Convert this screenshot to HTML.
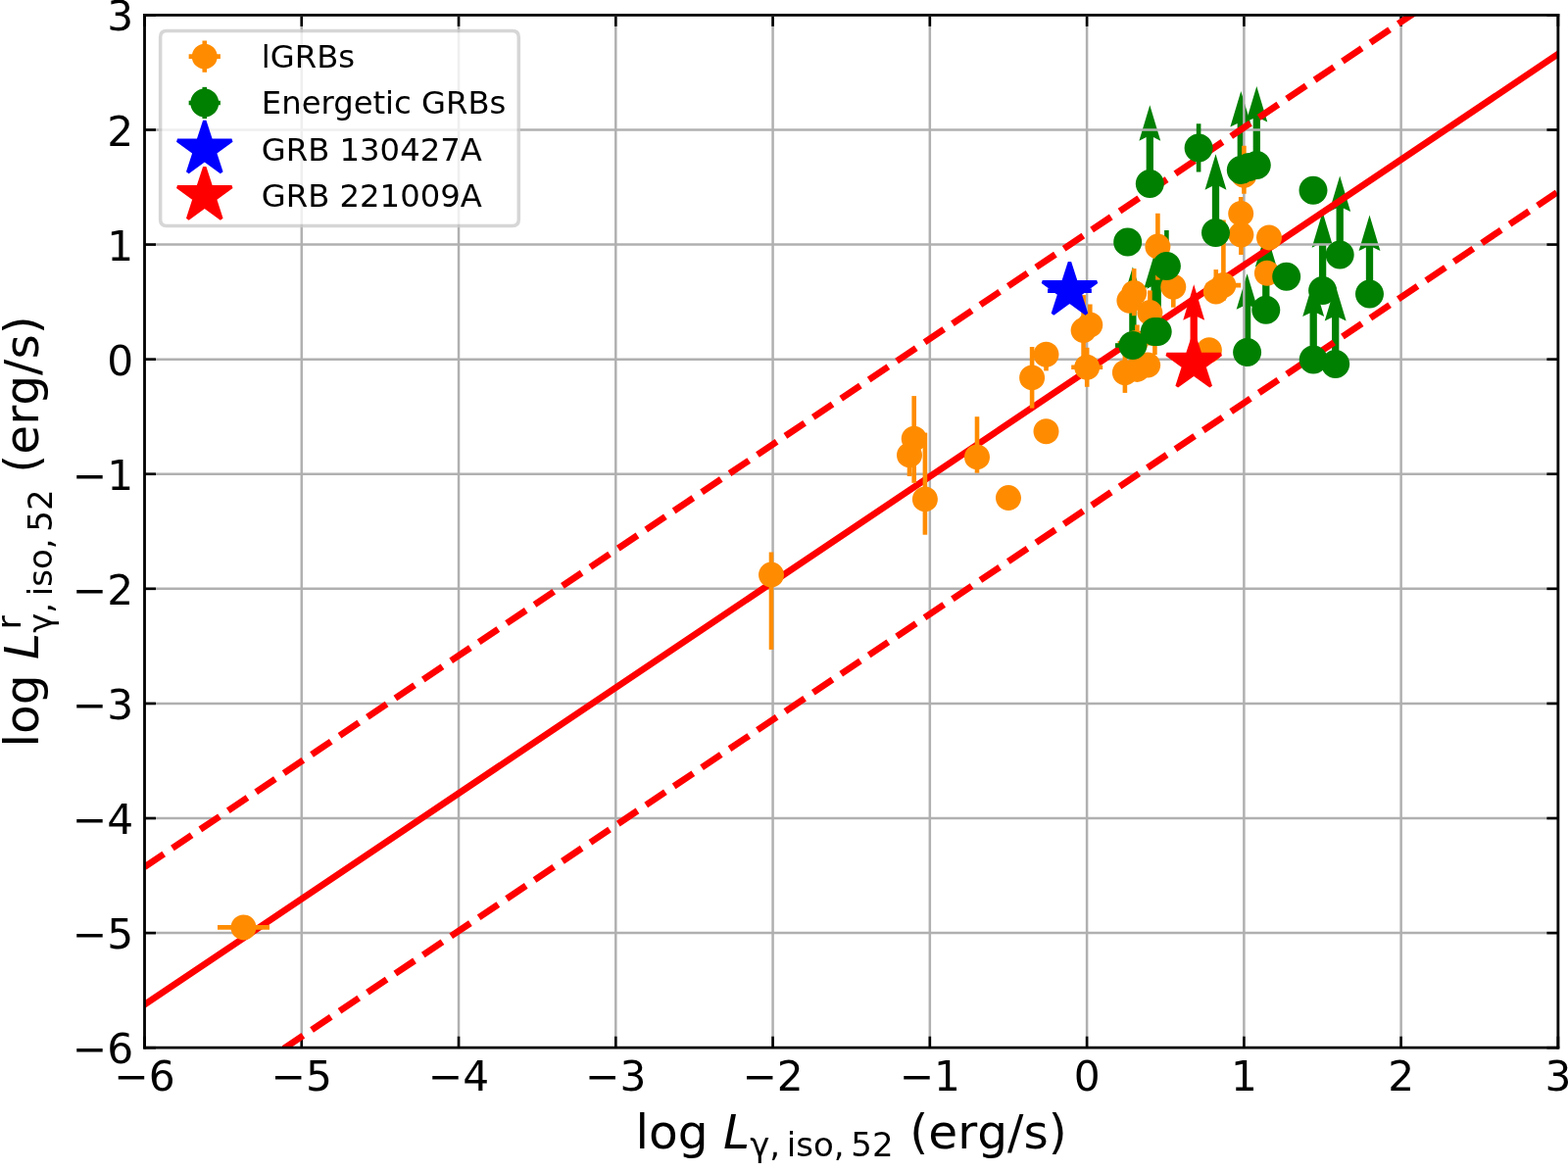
<!DOCTYPE html>
<html><head><meta charset="utf-8"><title>plot</title>
<style>html,body{margin:0;padding:0;background:#fff;width:1600px;height:1195px;overflow:hidden}svg{display:block}
text{font-family:"DejaVu Sans","Liberation Sans",sans-serif}</style></head>
<body>
<svg width="1600" height="1195" viewBox="0 0 1600 1195" version="1.1">
 
 <defs>
  <style type="text/css">*{stroke-linejoin: round; stroke-linecap: butt}</style>
 </defs>
 <g id="figure_1">
  <g id="patch_1">
   <path d="M 0 1195 
L 1600 1195 
L 1600 0 
L 0 0 
z
" style="fill: #ffffff"/>
  </g>
  <g id="axes_1">
   <g id="patch_2">
    <path d="M 147.5 1069.2 
L 1589.9 1069.2 
L 1589.9 15.4 
L 147.5 15.4 
z
" style="fill: #ffffff"/>
   </g>
   <g id="patch_3">
    <path d="M 1169.65 187.5 
L 1169.65 140.05 
L 1162.35 143.7 
L 1173.3 107.2 
L 1184.25 143.7 
L 1176.95 140.05 
L 1176.95 187.5 
z
" clip-path="url(#p60090a97e6)" style="fill: #008000"/>
   </g>
   <g id="patch_4">
    <path d="M 1236.85 237.5 
L 1236.85 190.05 
L 1229.55 193.7 
L 1240.5 157.2 
L 1251.45 193.7 
L 1244.15 190.05 
L 1244.15 237.5 
z
" clip-path="url(#p60090a97e6)" style="fill: #008000"/>
   </g>
   <g id="patch_5">
    <path d="M 1262.65 173.4 
L 1262.65 125.95 
L 1255.35 129.6 
L 1266.3 93.1 
L 1277.25 129.6 
L 1269.95 125.95 
L 1269.95 173.4 
z
" clip-path="url(#p60090a97e6)" style="fill: #008000"/>
   </g>
   <g id="patch_6">
    <path d="M 1278.65 168.4 
L 1278.65 120.95 
L 1271.35 124.6 
L 1282.3 88.1 
L 1293.25 124.6 
L 1285.95 120.95 
L 1285.95 168.4 
z
" clip-path="url(#p60090a97e6)" style="fill: #008000"/>
   </g>
   <g id="patch_7">
    <path d="M 1363.55 259.9 
L 1363.55 212.45 
L 1356.25 216.1 
L 1367.2 179.6 
L 1378.15 216.1 
L 1370.85 212.45 
L 1370.85 259.9 
z
" clip-path="url(#p60090a97e6)" style="fill: #008000"/>
   </g>
   <g id="patch_8">
    <path d="M 1345.95 296.5 
L 1345.95 249.05 
L 1338.65 252.7 
L 1349.6 216.2 
L 1360.55 252.7 
L 1353.25 249.05 
L 1353.25 296.5 
z
" clip-path="url(#p60090a97e6)" style="fill: #008000"/>
   </g>
   <g id="patch_9">
    <path d="M 1393.85 299.9 
L 1393.85 252.45 
L 1386.55 256.1 
L 1397.5 219.6 
L 1408.45 256.1 
L 1401.15 252.45 
L 1401.15 299.9 
z
" clip-path="url(#p60090a97e6)" style="fill: #008000"/>
   </g>
   <g id="patch_10">
    <path d="M 1174.55 338.5 
L 1174.55 291.05 
L 1167.25 294.7 
L 1178.2 258.2 
L 1189.15 294.7 
L 1181.85 291.05 
L 1181.85 338.5 
z
" clip-path="url(#p60090a97e6)" style="fill: #008000"/>
   </g>
   <g id="patch_11">
    <path d="M 1177.55 338.5 
L 1177.55 291.05 
L 1170.25 294.7 
L 1181.2 258.2 
L 1192.15 294.7 
L 1184.85 291.05 
L 1184.85 338.5 
z
" clip-path="url(#p60090a97e6)" style="fill: #008000"/>
   </g>
   <g id="patch_12">
    <path d="M 1152.25 352.5 
L 1152.25 305.05 
L 1144.95 308.7 
L 1155.9 272.2 
L 1166.85 308.7 
L 1159.55 305.05 
L 1159.55 352.5 
z
" clip-path="url(#p60090a97e6)" style="fill: #008000"/>
   </g>
   <g id="patch_13">
    <path d="M 1288.15 316.2 
L 1288.15 268.75 
L 1280.85 272.4 
L 1291.8 235.9 
L 1302.75 272.4 
L 1295.45 268.75 
L 1295.45 316.2 
z
" clip-path="url(#p60090a97e6)" style="fill: #008000"/>
   </g>
   <g id="patch_14">
    <path d="M 1336.55 366.9 
L 1336.55 319.45 
L 1329.25 323.1 
L 1340.2 286.6 
L 1351.15 323.1 
L 1343.85 319.45 
L 1343.85 366.9 
z
" clip-path="url(#p60090a97e6)" style="fill: #008000"/>
   </g>
   <g id="patch_15">
    <path d="M 1359.05 371.4 
L 1359.05 323.95 
L 1351.75 327.6 
L 1362.7 291.1 
L 1373.65 327.6 
L 1366.35 323.95 
L 1366.35 371.4 
z
" clip-path="url(#p60090a97e6)" style="fill: #008000"/>
   </g>
   <g id="patch_16">
    <path d="M 1268.95 359.6 
L 1268.95 312.15 
L 1261.65 315.8 
L 1272.6 279.3 
L 1283.55 315.8 
L 1276.25 312.15 
L 1276.25 359.6 
z
" clip-path="url(#p60090a97e6)" style="fill: #008000"/>
   </g>
   <g id="patch_17">
    <path d="M 1214.55 370.6 
L 1214.55 323.15 
L 1207.25 326.8 
L 1218.2 290.3 
L 1229.15 326.8 
L 1221.85 323.15 
L 1221.85 370.6 
z
" clip-path="url(#p60090a97e6)" style="fill: #ff0000"/>
   </g>
   <g id="matplotlib.axis_1">
    <g id="xtick_1">
     <g id="line2d_1">
      <path d="M 147.5 1069.2 
L 147.5 15.4 
" clip-path="url(#p60090a97e6)" style="fill: none; stroke: #b0b0b0; stroke-width: 2.5; stroke-linecap: square"/>
     </g>
     <g id="line2d_2">
      <defs>
       
      </defs>
      <g>
       <path d="M 0 0 
L 0 -11.5 
" transform="translate(147.5 1069.2)" style="stroke: #000000; stroke-width: 2.6"/>
      </g>
     </g>
     <g id="line2d_3">
      <defs>
       
      </defs>
      <g>
       <path d="M 0 0 
L 0 11.5 
" transform="translate(147.5 15.4)" style="stroke: #000000; stroke-width: 2.6"/>
      </g>
     </g>
     <g id="text_1">
      <text style="font-size: 42.3px; font-family: 'DejaVu Sans', 'Liberation Sans', sans-serif; text-anchor: middle" x="147.5" y="1112.741391" transform="rotate(-0 147.5 1112.741391)">−6</text>
     </g>
    </g>
    <g id="xtick_2">
     <g id="line2d_4">
      <path d="M 307.766667 1069.2 
L 307.766667 15.4 
" clip-path="url(#p60090a97e6)" style="fill: none; stroke: #b0b0b0; stroke-width: 2.5; stroke-linecap: square"/>
     </g>
     <g id="line2d_5">
      <g>
       <path d="M 0 0 
L 0 -11.5 
" transform="translate(307.766667 1069.2)" style="stroke: #000000; stroke-width: 2.6"/>
      </g>
     </g>
     <g id="line2d_6">
      <g>
       <path d="M 0 0 
L 0 11.5 
" transform="translate(307.766667 15.4)" style="stroke: #000000; stroke-width: 2.6"/>
      </g>
     </g>
     <g id="text_2">
      <text style="font-size: 42.3px; font-family: 'DejaVu Sans', 'Liberation Sans', sans-serif; text-anchor: middle" x="307.766667" y="1112.741391" transform="rotate(-0 307.766667 1112.741391)">−5</text>
     </g>
    </g>
    <g id="xtick_3">
     <g id="line2d_7">
      <path d="M 468.033333 1069.2 
L 468.033333 15.4 
" clip-path="url(#p60090a97e6)" style="fill: none; stroke: #b0b0b0; stroke-width: 2.5; stroke-linecap: square"/>
     </g>
     <g id="line2d_8">
      <g>
       <path d="M 0 0 
L 0 -11.5 
" transform="translate(468.033333 1069.2)" style="stroke: #000000; stroke-width: 2.6"/>
      </g>
     </g>
     <g id="line2d_9">
      <g>
       <path d="M 0 0 
L 0 11.5 
" transform="translate(468.033333 15.4)" style="stroke: #000000; stroke-width: 2.6"/>
      </g>
     </g>
     <g id="text_3">
      <text style="font-size: 42.3px; font-family: 'DejaVu Sans', 'Liberation Sans', sans-serif; text-anchor: middle" x="468.033333" y="1112.741391" transform="rotate(-0 468.033333 1112.741391)">−4</text>
     </g>
    </g>
    <g id="xtick_4">
     <g id="line2d_10">
      <path d="M 628.3 1069.2 
L 628.3 15.4 
" clip-path="url(#p60090a97e6)" style="fill: none; stroke: #b0b0b0; stroke-width: 2.5; stroke-linecap: square"/>
     </g>
     <g id="line2d_11">
      <g>
       <path d="M 0 0 
L 0 -11.5 
" transform="translate(628.3 1069.2)" style="stroke: #000000; stroke-width: 2.6"/>
      </g>
     </g>
     <g id="line2d_12">
      <g>
       <path d="M 0 0 
L 0 11.5 
" transform="translate(628.3 15.4)" style="stroke: #000000; stroke-width: 2.6"/>
      </g>
     </g>
     <g id="text_4">
      <text style="font-size: 42.3px; font-family: 'DejaVu Sans', 'Liberation Sans', sans-serif; text-anchor: middle" x="628.3" y="1112.741391" transform="rotate(-0 628.3 1112.741391)">−3</text>
     </g>
    </g>
    <g id="xtick_5">
     <g id="line2d_13">
      <path d="M 788.566667 1069.2 
L 788.566667 15.4 
" clip-path="url(#p60090a97e6)" style="fill: none; stroke: #b0b0b0; stroke-width: 2.5; stroke-linecap: square"/>
     </g>
     <g id="line2d_14">
      <g>
       <path d="M 0 0 
L 0 -11.5 
" transform="translate(788.566667 1069.2)" style="stroke: #000000; stroke-width: 2.6"/>
      </g>
     </g>
     <g id="line2d_15">
      <g>
       <path d="M 0 0 
L 0 11.5 
" transform="translate(788.566667 15.4)" style="stroke: #000000; stroke-width: 2.6"/>
      </g>
     </g>
     <g id="text_5">
      <text style="font-size: 42.3px; font-family: 'DejaVu Sans', 'Liberation Sans', sans-serif; text-anchor: middle" x="788.566667" y="1112.741391" transform="rotate(-0 788.566667 1112.741391)">−2</text>
     </g>
    </g>
    <g id="xtick_6">
     <g id="line2d_16">
      <path d="M 948.833333 1069.2 
L 948.833333 15.4 
" clip-path="url(#p60090a97e6)" style="fill: none; stroke: #b0b0b0; stroke-width: 2.5; stroke-linecap: square"/>
     </g>
     <g id="line2d_17">
      <g>
       <path d="M 0 0 
L 0 -11.5 
" transform="translate(948.833333 1069.2)" style="stroke: #000000; stroke-width: 2.6"/>
      </g>
     </g>
     <g id="line2d_18">
      <g>
       <path d="M 0 0 
L 0 11.5 
" transform="translate(948.833333 15.4)" style="stroke: #000000; stroke-width: 2.6"/>
      </g>
     </g>
     <g id="text_6">
      <text style="font-size: 42.3px; font-family: 'DejaVu Sans', 'Liberation Sans', sans-serif; text-anchor: middle" x="948.833333" y="1112.741391" transform="rotate(-0 948.833333 1112.741391)">−1</text>
     </g>
    </g>
    <g id="xtick_7">
     <g id="line2d_19">
      <path d="M 1109.1 1069.2 
L 1109.1 15.4 
" clip-path="url(#p60090a97e6)" style="fill: none; stroke: #b0b0b0; stroke-width: 2.5; stroke-linecap: square"/>
     </g>
     <g id="line2d_20">
      <g>
       <path d="M 0 0 
L 0 -11.5 
" transform="translate(1109.1 1069.2)" style="stroke: #000000; stroke-width: 2.6"/>
      </g>
     </g>
     <g id="line2d_21">
      <g>
       <path d="M 0 0 
L 0 11.5 
" transform="translate(1109.1 15.4)" style="stroke: #000000; stroke-width: 2.6"/>
      </g>
     </g>
     <g id="text_7">
      <text style="font-size: 42.3px; font-family: 'DejaVu Sans', 'Liberation Sans', sans-serif; text-anchor: middle" x="1109.1" y="1112.741391" transform="rotate(-0 1109.1 1112.741391)">0</text>
     </g>
    </g>
    <g id="xtick_8">
     <g id="line2d_22">
      <path d="M 1269.366667 1069.2 
L 1269.366667 15.4 
" clip-path="url(#p60090a97e6)" style="fill: none; stroke: #b0b0b0; stroke-width: 2.5; stroke-linecap: square"/>
     </g>
     <g id="line2d_23">
      <g>
       <path d="M 0 0 
L 0 -11.5 
" transform="translate(1269.366667 1069.2)" style="stroke: #000000; stroke-width: 2.6"/>
      </g>
     </g>
     <g id="line2d_24">
      <g>
       <path d="M 0 0 
L 0 11.5 
" transform="translate(1269.366667 15.4)" style="stroke: #000000; stroke-width: 2.6"/>
      </g>
     </g>
     <g id="text_8">
      <text style="font-size: 42.3px; font-family: 'DejaVu Sans', 'Liberation Sans', sans-serif; text-anchor: middle" x="1269.366667" y="1112.741391" transform="rotate(-0 1269.366667 1112.741391)">1</text>
     </g>
    </g>
    <g id="xtick_9">
     <g id="line2d_25">
      <path d="M 1429.633333 1069.2 
L 1429.633333 15.4 
" clip-path="url(#p60090a97e6)" style="fill: none; stroke: #b0b0b0; stroke-width: 2.5; stroke-linecap: square"/>
     </g>
     <g id="line2d_26">
      <g>
       <path d="M 0 0 
L 0 -11.5 
" transform="translate(1429.633333 1069.2)" style="stroke: #000000; stroke-width: 2.6"/>
      </g>
     </g>
     <g id="line2d_27">
      <g>
       <path d="M 0 0 
L 0 11.5 
" transform="translate(1429.633333 15.4)" style="stroke: #000000; stroke-width: 2.6"/>
      </g>
     </g>
     <g id="text_9">
      <text style="font-size: 42.3px; font-family: 'DejaVu Sans', 'Liberation Sans', sans-serif; text-anchor: middle" x="1429.633333" y="1112.741391" transform="rotate(-0 1429.633333 1112.741391)">2</text>
     </g>
    </g>
    <g id="xtick_10">
     <g id="line2d_28">
      <path d="M 1589.9 1069.2 
L 1589.9 15.4 
" clip-path="url(#p60090a97e6)" style="fill: none; stroke: #b0b0b0; stroke-width: 2.5; stroke-linecap: square"/>
     </g>
     <g id="line2d_29">
      <g>
       <path d="M 0 0 
L 0 -11.5 
" transform="translate(1589.9 1069.2)" style="stroke: #000000; stroke-width: 2.6"/>
      </g>
     </g>
     <g id="line2d_30">
      <g>
       <path d="M 0 0 
L 0 11.5 
" transform="translate(1589.9 15.4)" style="stroke: #000000; stroke-width: 2.6"/>
      </g>
     </g>
     <g id="text_10">
      <text style="font-size: 42.3px; font-family: 'DejaVu Sans', 'Liberation Sans', sans-serif; text-anchor: middle" x="1589.9" y="1112.741391" transform="rotate(-0 1589.9 1112.741391)">3</text>
     </g>
    </g>
    <g id="text_11">
     <!-- log $L_{\rm \gamma, iso, 52}$ (erg/s) -->
     <g transform="translate(648.542 1172.374469)">
      <text>
       <tspan x="0" y="-0.765625" style="font-size: 48.6px; font-family: 'DejaVu Sans', 'Liberation Sans', sans-serif">l</tspan>
       <tspan x="13.509583" y="-0.765625" style="font-size: 48.6px; font-family: 'DejaVu Sans', 'Liberation Sans', sans-serif">o</tspan>
       <tspan x="43.259155" y="-0.765625" style="font-size: 48.6px; font-family: 'DejaVu Sans', 'Liberation Sans', sans-serif">g</tspan>
       <tspan x="74.124634" y="-0.765625" style="font-size: 48.6px; font-family: 'DejaVu Sans', 'Liberation Sans', sans-serif"> </tspan>
       <tspan x="264.382574" y="-0.765625" style="font-size: 48.6px; font-family: 'DejaVu Sans', 'Liberation Sans', sans-serif"> </tspan>
       <tspan x="279.839056" y="-0.765625" style="font-size: 48.6px; font-family: 'DejaVu Sans', 'Liberation Sans', sans-serif">(</tspan>
       <tspan x="298.809454" y="-0.765625" style="font-size: 48.6px; font-family: 'DejaVu Sans', 'Liberation Sans', sans-serif">e</tspan>
       <tspan x="328.725226" y="-0.765625" style="font-size: 48.6px; font-family: 'DejaVu Sans', 'Liberation Sans', sans-serif">r</tspan>
       <tspan x="348.716559" y="-0.765625" style="font-size: 48.6px; font-family: 'DejaVu Sans', 'Liberation Sans', sans-serif">g</tspan>
       <tspan x="379.582037" y="-0.765625" style="font-size: 48.6px; font-family: 'DejaVu Sans', 'Liberation Sans', sans-serif">/</tspan>
       <tspan x="395.964484" y="-0.765625" style="font-size: 48.6px; font-family: 'DejaVu Sans', 'Liberation Sans', sans-serif">s</tspan>
       <tspan x="421.297919" y="-0.765625" style="font-size: 48.6px; font-family: 'DejaVu Sans', 'Liberation Sans', sans-serif">)</tspan>
       <tspan x="89.581116" y="-0.765625" style="font-style: oblique; font-size: 48.6px; font-family: 'DejaVu Sans', 'Liberation Sans', sans-serif">L</tspan>
       <tspan x="116.671509" y="7.273438" style="font-size: 34.02px; font-family: 'DejaVu Sans', 'Liberation Sans', sans-serif">γ</tspan>
       <tspan x="136.814795" y="7.273438" style="font-size: 34.02px; font-family: 'DejaVu Sans', 'Liberation Sans', sans-serif">,</tspan>
       <tspan x="154.265662" y="7.273438" style="font-size: 34.02px; font-family: 'DejaVu Sans', 'Liberation Sans', sans-serif">i</tspan>
       <tspan x="163.722369" y="7.273438" style="font-size: 34.02px; font-family: 'DejaVu Sans', 'Liberation Sans', sans-serif">s</tspan>
       <tspan x="181.455774" y="7.273438" style="font-size: 34.02px; font-family: 'DejaVu Sans', 'Liberation Sans', sans-serif">o</tspan>
       <tspan x="202.280475" y="7.273438" style="font-size: 34.02px; font-family: 'DejaVu Sans', 'Liberation Sans', sans-serif">,</tspan>
       <tspan x="219.731342" y="7.273438" style="font-size: 34.02px; font-family: 'DejaVu Sans', 'Liberation Sans', sans-serif">5</tspan>
       <tspan x="241.387036" y="7.273438" style="font-size: 34.02px; font-family: 'DejaVu Sans', 'Liberation Sans', sans-serif">2</tspan>
      </text>
     </g>
    </g>
   </g>
   <g id="matplotlib.axis_2">
    <g id="ytick_1">
     <g id="line2d_31">
      <path d="M 147.5 1069.2 
L 1589.9 1069.2 
" clip-path="url(#p60090a97e6)" style="fill: none; stroke: #b0b0b0; stroke-width: 2.5; stroke-linecap: square"/>
     </g>
     <g id="line2d_32">
      <defs>
       
      </defs>
      <g>
       <path d="M 0 0 
L 11.5 0 
" transform="translate(147.5 1069.2)" style="stroke: #000000; stroke-width: 2.6"/>
      </g>
     </g>
     <g id="line2d_33">
      <defs>
       
      </defs>
      <g>
       <path d="M 0 0 
L -11.5 0 
" transform="translate(1589.9 1069.2)" style="stroke: #000000; stroke-width: 2.6"/>
      </g>
     </g>
     <g id="text_12">
      <text style="font-size: 42.3px; font-family: 'DejaVu Sans', 'Liberation Sans', sans-serif; text-anchor: end" x="136.1" y="1085.270695" transform="rotate(-0 136.1 1085.270695)">−6</text>
     </g>
    </g>
    <g id="ytick_2">
     <g id="line2d_34">
      <path d="M 147.5 952.111111 
L 1589.9 952.111111 
" clip-path="url(#p60090a97e6)" style="fill: none; stroke: #b0b0b0; stroke-width: 2.5; stroke-linecap: square"/>
     </g>
     <g id="line2d_35">
      <g>
       <path d="M 0 0 
L 11.5 0 
" transform="translate(147.5 952.111111)" style="stroke: #000000; stroke-width: 2.6"/>
      </g>
     </g>
     <g id="line2d_36">
      <g>
       <path d="M 0 0 
L -11.5 0 
" transform="translate(1589.9 952.111111)" style="stroke: #000000; stroke-width: 2.6"/>
      </g>
     </g>
     <g id="text_13">
      <text style="font-size: 42.3px; font-family: 'DejaVu Sans', 'Liberation Sans', sans-serif; text-anchor: end" x="136.1" y="968.181806" transform="rotate(-0 136.1 968.181806)">−5</text>
     </g>
    </g>
    <g id="ytick_3">
     <g id="line2d_37">
      <path d="M 147.5 835.022222 
L 1589.9 835.022222 
" clip-path="url(#p60090a97e6)" style="fill: none; stroke: #b0b0b0; stroke-width: 2.5; stroke-linecap: square"/>
     </g>
     <g id="line2d_38">
      <g>
       <path d="M 0 0 
L 11.5 0 
" transform="translate(147.5 835.022222)" style="stroke: #000000; stroke-width: 2.6"/>
      </g>
     </g>
     <g id="line2d_39">
      <g>
       <path d="M 0 0 
L -11.5 0 
" transform="translate(1589.9 835.022222)" style="stroke: #000000; stroke-width: 2.6"/>
      </g>
     </g>
     <g id="text_14">
      <text style="font-size: 42.3px; font-family: 'DejaVu Sans', 'Liberation Sans', sans-serif; text-anchor: end" x="136.1" y="851.092918" transform="rotate(-0 136.1 851.092918)">−4</text>
     </g>
    </g>
    <g id="ytick_4">
     <g id="line2d_40">
      <path d="M 147.5 717.933333 
L 1589.9 717.933333 
" clip-path="url(#p60090a97e6)" style="fill: none; stroke: #b0b0b0; stroke-width: 2.5; stroke-linecap: square"/>
     </g>
     <g id="line2d_41">
      <g>
       <path d="M 0 0 
L 11.5 0 
" transform="translate(147.5 717.933333)" style="stroke: #000000; stroke-width: 2.6"/>
      </g>
     </g>
     <g id="line2d_42">
      <g>
       <path d="M 0 0 
L -11.5 0 
" transform="translate(1589.9 717.933333)" style="stroke: #000000; stroke-width: 2.6"/>
      </g>
     </g>
     <g id="text_15">
      <text style="font-size: 42.3px; font-family: 'DejaVu Sans', 'Liberation Sans', sans-serif; text-anchor: end" x="136.1" y="734.004029" transform="rotate(-0 136.1 734.004029)">−3</text>
     </g>
    </g>
    <g id="ytick_5">
     <g id="line2d_43">
      <path d="M 147.5 600.844444 
L 1589.9 600.844444 
" clip-path="url(#p60090a97e6)" style="fill: none; stroke: #b0b0b0; stroke-width: 2.5; stroke-linecap: square"/>
     </g>
     <g id="line2d_44">
      <g>
       <path d="M 0 0 
L 11.5 0 
" transform="translate(147.5 600.844444)" style="stroke: #000000; stroke-width: 2.6"/>
      </g>
     </g>
     <g id="line2d_45">
      <g>
       <path d="M 0 0 
L -11.5 0 
" transform="translate(1589.9 600.844444)" style="stroke: #000000; stroke-width: 2.6"/>
      </g>
     </g>
     <g id="text_16">
      <text style="font-size: 42.3px; font-family: 'DejaVu Sans', 'Liberation Sans', sans-serif; text-anchor: end" x="136.1" y="616.91514" transform="rotate(-0 136.1 616.91514)">−2</text>
     </g>
    </g>
    <g id="ytick_6">
     <g id="line2d_46">
      <path d="M 147.5 483.755556 
L 1589.9 483.755556 
" clip-path="url(#p60090a97e6)" style="fill: none; stroke: #b0b0b0; stroke-width: 2.5; stroke-linecap: square"/>
     </g>
     <g id="line2d_47">
      <g>
       <path d="M 0 0 
L 11.5 0 
" transform="translate(147.5 483.755556)" style="stroke: #000000; stroke-width: 2.6"/>
      </g>
     </g>
     <g id="line2d_48">
      <g>
       <path d="M 0 0 
L -11.5 0 
" transform="translate(1589.9 483.755556)" style="stroke: #000000; stroke-width: 2.6"/>
      </g>
     </g>
     <g id="text_17">
      <text style="font-size: 42.3px; font-family: 'DejaVu Sans', 'Liberation Sans', sans-serif; text-anchor: end" x="136.1" y="499.826251" transform="rotate(-0 136.1 499.826251)">−1</text>
     </g>
    </g>
    <g id="ytick_7">
     <g id="line2d_49">
      <path d="M 147.5 366.666667 
L 1589.9 366.666667 
" clip-path="url(#p60090a97e6)" style="fill: none; stroke: #b0b0b0; stroke-width: 2.5; stroke-linecap: square"/>
     </g>
     <g id="line2d_50">
      <g>
       <path d="M 0 0 
L 11.5 0 
" transform="translate(147.5 366.666667)" style="stroke: #000000; stroke-width: 2.6"/>
      </g>
     </g>
     <g id="line2d_51">
      <g>
       <path d="M 0 0 
L -11.5 0 
" transform="translate(1589.9 366.666667)" style="stroke: #000000; stroke-width: 2.6"/>
      </g>
     </g>
     <g id="text_18">
      <text style="font-size: 42.3px; font-family: 'DejaVu Sans', 'Liberation Sans', sans-serif; text-anchor: end" x="136.1" y="382.737362" transform="rotate(-0 136.1 382.737362)">0</text>
     </g>
    </g>
    <g id="ytick_8">
     <g id="line2d_52">
      <path d="M 147.5 249.577778 
L 1589.9 249.577778 
" clip-path="url(#p60090a97e6)" style="fill: none; stroke: #b0b0b0; stroke-width: 2.5; stroke-linecap: square"/>
     </g>
     <g id="line2d_53">
      <g>
       <path d="M 0 0 
L 11.5 0 
" transform="translate(147.5 249.577778)" style="stroke: #000000; stroke-width: 2.6"/>
      </g>
     </g>
     <g id="line2d_54">
      <g>
       <path d="M 0 0 
L -11.5 0 
" transform="translate(1589.9 249.577778)" style="stroke: #000000; stroke-width: 2.6"/>
      </g>
     </g>
     <g id="text_19">
      <text style="font-size: 42.3px; font-family: 'DejaVu Sans', 'Liberation Sans', sans-serif; text-anchor: end" x="136.1" y="265.648473" transform="rotate(-0 136.1 265.648473)">1</text>
     </g>
    </g>
    <g id="ytick_9">
     <g id="line2d_55">
      <path d="M 147.5 132.488889 
L 1589.9 132.488889 
" clip-path="url(#p60090a97e6)" style="fill: none; stroke: #b0b0b0; stroke-width: 2.5; stroke-linecap: square"/>
     </g>
     <g id="line2d_56">
      <g>
       <path d="M 0 0 
L 11.5 0 
" transform="translate(147.5 132.488889)" style="stroke: #000000; stroke-width: 2.6"/>
      </g>
     </g>
     <g id="line2d_57">
      <g>
       <path d="M 0 0 
L -11.5 0 
" transform="translate(1589.9 132.488889)" style="stroke: #000000; stroke-width: 2.6"/>
      </g>
     </g>
     <g id="text_20">
      <text style="font-size: 42.3px; font-family: 'DejaVu Sans', 'Liberation Sans', sans-serif; text-anchor: end" x="136.1" y="148.559584" transform="rotate(-0 136.1 148.559584)">2</text>
     </g>
    </g>
    <g id="ytick_10">
     <g id="line2d_58">
      <path d="M 147.5 15.4 
L 1589.9 15.4 
" clip-path="url(#p60090a97e6)" style="fill: none; stroke: #b0b0b0; stroke-width: 2.5; stroke-linecap: square"/>
     </g>
     <g id="line2d_59">
      <g>
       <path d="M 0 0 
L 11.5 0 
" transform="translate(147.5 15.4)" style="stroke: #000000; stroke-width: 2.6"/>
      </g>
     </g>
     <g id="line2d_60">
      <g>
       <path d="M 0 0 
L -11.5 0 
" transform="translate(1589.9 15.4)" style="stroke: #000000; stroke-width: 2.6"/>
      </g>
     </g>
     <g id="text_21">
      <text style="font-size: 42.3px; font-family: 'DejaVu Sans', 'Liberation Sans', sans-serif; text-anchor: end" x="136.1" y="31.470695" transform="rotate(-0 136.1 31.470695)">3</text>
     </g>
    </g>
    <g id="text_22">
     <!-- log $L^{\rm r}_{\rm \gamma, iso, 52}$ (erg/s) -->
     <g transform="translate(39.428547 762.458) rotate(-90)">
      <text>
       <tspan x="0" y="-0.035938" style="font-size: 48.6px; font-family: 'DejaVu Sans', 'Liberation Sans', sans-serif">l</tspan>
       <tspan x="13.509583" y="-0.035938" style="font-size: 48.6px; font-family: 'DejaVu Sans', 'Liberation Sans', sans-serif">o</tspan>
       <tspan x="43.259155" y="-0.035938" style="font-size: 48.6px; font-family: 'DejaVu Sans', 'Liberation Sans', sans-serif">g</tspan>
       <tspan x="74.124634" y="-0.035938" style="font-size: 48.6px; font-family: 'DejaVu Sans', 'Liberation Sans', sans-serif"> </tspan>
       <tspan x="264.382574" y="-0.035938" style="font-size: 48.6px; font-family: 'DejaVu Sans', 'Liberation Sans', sans-serif"> </tspan>
       <tspan x="279.839056" y="-0.035938" style="font-size: 48.6px; font-family: 'DejaVu Sans', 'Liberation Sans', sans-serif">(</tspan>
       <tspan x="298.809454" y="-0.035938" style="font-size: 48.6px; font-family: 'DejaVu Sans', 'Liberation Sans', sans-serif">e</tspan>
       <tspan x="328.725226" y="-0.035938" style="font-size: 48.6px; font-family: 'DejaVu Sans', 'Liberation Sans', sans-serif">r</tspan>
       <tspan x="348.716559" y="-0.035938" style="font-size: 48.6px; font-family: 'DejaVu Sans', 'Liberation Sans', sans-serif">g</tspan>
       <tspan x="379.582037" y="-0.035938" style="font-size: 48.6px; font-family: 'DejaVu Sans', 'Liberation Sans', sans-serif">/</tspan>
       <tspan x="395.964484" y="-0.035938" style="font-size: 48.6px; font-family: 'DejaVu Sans', 'Liberation Sans', sans-serif">s</tspan>
       <tspan x="421.297919" y="-0.035938" style="font-size: 48.6px; font-family: 'DejaVu Sans', 'Liberation Sans', sans-serif">)</tspan>
       <tspan x="89.581116" y="-0.035938" style="font-style: oblique; font-size: 48.6px; font-family: 'DejaVu Sans', 'Liberation Sans', sans-serif">L</tspan>
       <tspan x="116.671509" y="13.3625" style="font-size: 34.02px; font-family: 'DejaVu Sans', 'Liberation Sans', sans-serif">γ</tspan>
       <tspan x="120.108983" y="-18.79375" style="font-size: 34.02px; font-family: 'DejaVu Sans', 'Liberation Sans', sans-serif">r</tspan>
       <tspan x="136.814795" y="13.3625" style="font-size: 34.02px; font-family: 'DejaVu Sans', 'Liberation Sans', sans-serif">,</tspan>
       <tspan x="154.265662" y="13.3625" style="font-size: 34.02px; font-family: 'DejaVu Sans', 'Liberation Sans', sans-serif">i</tspan>
       <tspan x="163.722369" y="13.3625" style="font-size: 34.02px; font-family: 'DejaVu Sans', 'Liberation Sans', sans-serif">s</tspan>
       <tspan x="181.455774" y="13.3625" style="font-size: 34.02px; font-family: 'DejaVu Sans', 'Liberation Sans', sans-serif">o</tspan>
       <tspan x="202.280475" y="13.3625" style="font-size: 34.02px; font-family: 'DejaVu Sans', 'Liberation Sans', sans-serif">,</tspan>
       <tspan x="219.731342" y="13.3625" style="font-size: 34.02px; font-family: 'DejaVu Sans', 'Liberation Sans', sans-serif">5</tspan>
       <tspan x="241.387036" y="13.3625" style="font-size: 34.02px; font-family: 'DejaVu Sans', 'Liberation Sans', sans-serif">2</tspan>
      </text>
     </g>
    </g>
   </g>
   <g id="line2d_61">
    <path d="M 147.5 1025.139451 
L 1589.9 55.116551 
" clip-path="url(#p60090a97e6)" style="fill: none; stroke: #ff0000; stroke-width: 6.7; stroke-linecap: square"/>
   </g>
   <g id="line2d_62">
    <path d="M 147.5 884.632784 
L 1464.413991 -1 
" clip-path="url(#p60090a97e6)" style="fill: none; stroke-dasharray: 23.7,10.56; stroke-dashoffset: 0; stroke: #ff0000; stroke-width: 6.7"/>
   </g>
   <g id="line2d_63">
    <path d="M 147.5 1165.646118 
L 1589.9 195.623218 
" clip-path="url(#p60090a97e6)" style="fill: none; stroke-dasharray: 23.7,10.56; stroke-dashoffset: 0; stroke: #ff0000; stroke-width: 6.7"/>
   </g>
   <g id="LineCollection_1">
    <path d="M 222 946.4 
L 275 946.4 
" clip-path="url(#p60090a97e6)" style="fill: none; stroke: #ff8c00; stroke-width: 4.6"/>
    <path d="M 787 586.6 
L 787 586.6 
" clip-path="url(#p60090a97e6)" style="fill: none; stroke: #ff8c00; stroke-width: 4.6"/>
    <path d="M 932.7 447.8 
L 932.7 447.8 
" clip-path="url(#p60090a97e6)" style="fill: none; stroke: #ff8c00; stroke-width: 4.6"/>
    <path d="M 928 464.4 
L 928 464.4 
" clip-path="url(#p60090a97e6)" style="fill: none; stroke: #ff8c00; stroke-width: 4.6"/>
    <path d="M 943.9 509.4 
L 943.9 509.4 
" clip-path="url(#p60090a97e6)" style="fill: none; stroke: #ff8c00; stroke-width: 4.6"/>
    <path d="M 997 466.4 
L 997 466.4 
" clip-path="url(#p60090a97e6)" style="fill: none; stroke: #ff8c00; stroke-width: 4.6"/>
    <path d="M 1029 508.1 
L 1029 508.1 
" clip-path="url(#p60090a97e6)" style="fill: none; stroke: #ff8c00; stroke-width: 4.6"/>
    <path d="M 1067.5 440.3 
L 1067.5 440.3 
" clip-path="url(#p60090a97e6)" style="fill: none; stroke: #ff8c00; stroke-width: 4.6"/>
    <path d="M 1053.1 385.4 
L 1053.1 385.4 
" clip-path="url(#p60090a97e6)" style="fill: none; stroke: #ff8c00; stroke-width: 4.6"/>
    <path d="M 1067.5 361.7 
L 1067.5 361.7 
" clip-path="url(#p60090a97e6)" style="fill: none; stroke: #ff8c00; stroke-width: 4.6"/>
    <path d="M 1093.2 374.8 
L 1125.2 374.8 
" clip-path="url(#p60090a97e6)" style="fill: none; stroke: #ff8c00; stroke-width: 4.6"/>
    <path d="M 1105.6 337.1 
L 1105.6 337.1 
" clip-path="url(#p60090a97e6)" style="fill: none; stroke: #ff8c00; stroke-width: 4.6"/>
    <path d="M 1112.3 331.5 
L 1112.3 331.5 
" clip-path="url(#p60090a97e6)" style="fill: none; stroke: #ff8c00; stroke-width: 4.6"/>
    <path d="M 1157.2 298.9 
L 1157.2 298.9 
" clip-path="url(#p60090a97e6)" style="fill: none; stroke: #ff8c00; stroke-width: 4.6"/>
    <path d="M 1152.4 306.8 
L 1152.4 306.8 
" clip-path="url(#p60090a97e6)" style="fill: none; stroke: #ff8c00; stroke-width: 4.6"/>
    <path d="M 1173.4 319.1 
L 1173.4 319.1 
" clip-path="url(#p60090a97e6)" style="fill: none; stroke: #ff8c00; stroke-width: 4.6"/>
    <path d="M 1147.9 380.2 
L 1147.9 380.2 
" clip-path="url(#p60090a97e6)" style="fill: none; stroke: #ff8c00; stroke-width: 4.6"/>
    <path d="M 1160.4 376.9 
L 1160.4 376.9 
" clip-path="url(#p60090a97e6)" style="fill: none; stroke: #ff8c00; stroke-width: 4.6"/>
    <path d="M 1140.6 350.3 
L 1176 350.3 
" clip-path="url(#p60090a97e6)" style="fill: none; stroke: #ff8c00; stroke-width: 4.6"/>
    <path d="M 1171.2 372.6 
L 1171.2 372.6 
" clip-path="url(#p60090a97e6)" style="fill: none; stroke: #ff8c00; stroke-width: 4.6"/>
    <path d="M 1178.4 340 
L 1178.4 340 
" clip-path="url(#p60090a97e6)" style="fill: none; stroke: #ff8c00; stroke-width: 4.6"/>
    <path d="M 1233.9 357.2 
L 1233.9 357.2 
" clip-path="url(#p60090a97e6)" style="fill: none; stroke: #ff8c00; stroke-width: 4.6"/>
    <path d="M 1181.4 251.6 
L 1181.4 251.6 
" clip-path="url(#p60090a97e6)" style="fill: none; stroke: #ff8c00; stroke-width: 4.6"/>
    <path d="M 1197.3 292.7 
L 1197.3 292.7 
" clip-path="url(#p60090a97e6)" style="fill: none; stroke: #ff8c00; stroke-width: 4.6"/>
    <path d="M 1240.8 297.5 
L 1240.8 297.5 
" clip-path="url(#p60090a97e6)" style="fill: none; stroke: #ff8c00; stroke-width: 4.6"/>
    <path d="M 1230.6 291.1 
L 1266.2 291.1 
" clip-path="url(#p60090a97e6)" style="fill: none; stroke: #ff8c00; stroke-width: 4.6"/>
    <path d="M 1269.4 178.9 
L 1269.4 178.9 
" clip-path="url(#p60090a97e6)" style="fill: none; stroke: #ff8c00; stroke-width: 4.6"/>
    <path d="M 1266.2 217.9 
L 1266.2 217.9 
" clip-path="url(#p60090a97e6)" style="fill: none; stroke: #ff8c00; stroke-width: 4.6"/>
    <path d="M 1266.4 239.6 
L 1266.4 239.6 
" clip-path="url(#p60090a97e6)" style="fill: none; stroke: #ff8c00; stroke-width: 4.6"/>
    <path d="M 1295 242.4 
L 1295 242.4 
" clip-path="url(#p60090a97e6)" style="fill: none; stroke: #ff8c00; stroke-width: 4.6"/>
    <path d="M 1292.9 278.7 
L 1292.9 278.7 
" clip-path="url(#p60090a97e6)" style="fill: none; stroke: #ff8c00; stroke-width: 4.6"/>
   </g>
   <g id="LineCollection_2">
    <path d="M 248.5 946.4 
L 248.5 946.4 
" clip-path="url(#p60090a97e6)" style="fill: none; stroke: #ff8c00; stroke-width: 4.6"/>
    <path d="M 787 662.9 
L 787 563.5 
" clip-path="url(#p60090a97e6)" style="fill: none; stroke: #ff8c00; stroke-width: 4.6"/>
    <path d="M 932.7 492.8 
L 932.7 404.1 
" clip-path="url(#p60090a97e6)" style="fill: none; stroke: #ff8c00; stroke-width: 4.6"/>
    <path d="M 928 486 
L 928 442.8 
" clip-path="url(#p60090a97e6)" style="fill: none; stroke: #ff8c00; stroke-width: 4.6"/>
    <path d="M 943.9 545.7 
L 943.9 441.6 
" clip-path="url(#p60090a97e6)" style="fill: none; stroke: #ff8c00; stroke-width: 4.6"/>
    <path d="M 997 482.7 
L 997 425.2 
" clip-path="url(#p60090a97e6)" style="fill: none; stroke: #ff8c00; stroke-width: 4.6"/>
    <path d="M 1029 508.1 
L 1029 508.1 
" clip-path="url(#p60090a97e6)" style="fill: none; stroke: #ff8c00; stroke-width: 4.6"/>
    <path d="M 1067.5 440.3 
L 1067.5 440.3 
" clip-path="url(#p60090a97e6)" style="fill: none; stroke: #ff8c00; stroke-width: 4.6"/>
    <path d="M 1053.1 416.6 
L 1053.1 354 
" clip-path="url(#p60090a97e6)" style="fill: none; stroke: #ff8c00; stroke-width: 4.6"/>
    <path d="M 1067.5 378.4 
L 1067.5 353.7 
" clip-path="url(#p60090a97e6)" style="fill: none; stroke: #ff8c00; stroke-width: 4.6"/>
    <path d="M 1109.2 394.8 
L 1109.2 354.8 
" clip-path="url(#p60090a97e6)" style="fill: none; stroke: #ff8c00; stroke-width: 4.6"/>
    <path d="M 1105.6 364.1 
L 1105.6 301.1 
" clip-path="url(#p60090a97e6)" style="fill: none; stroke: #ff8c00; stroke-width: 4.6"/>
    <path d="M 1112.3 341.5 
L 1112.3 310.5 
" clip-path="url(#p60090a97e6)" style="fill: none; stroke: #ff8c00; stroke-width: 4.6"/>
    <path d="M 1157.2 322.2 
L 1157.2 274.1 
" clip-path="url(#p60090a97e6)" style="fill: none; stroke: #ff8c00; stroke-width: 4.6"/>
    <path d="M 1152.4 316.8 
L 1152.4 296.8 
" clip-path="url(#p60090a97e6)" style="fill: none; stroke: #ff8c00; stroke-width: 4.6"/>
    <path d="M 1173.4 329.1 
L 1173.4 296.4 
" clip-path="url(#p60090a97e6)" style="fill: none; stroke: #ff8c00; stroke-width: 4.6"/>
    <path d="M 1147.9 400.9 
L 1147.9 359.5 
" clip-path="url(#p60090a97e6)" style="fill: none; stroke: #ff8c00; stroke-width: 4.6"/>
    <path d="M 1160.4 386.9 
L 1160.4 331.5 
" clip-path="url(#p60090a97e6)" style="fill: none; stroke: #ff8c00; stroke-width: 4.6"/>
    <path d="M 1158.3 350.3 
L 1158.3 350.3 
" clip-path="url(#p60090a97e6)" style="fill: none; stroke: #ff8c00; stroke-width: 4.6"/>
    <path d="M 1171.2 382.6 
L 1171.2 362.6 
" clip-path="url(#p60090a97e6)" style="fill: none; stroke: #ff8c00; stroke-width: 4.6"/>
    <path d="M 1178.4 362 
L 1178.4 318 
" clip-path="url(#p60090a97e6)" style="fill: none; stroke: #ff8c00; stroke-width: 4.6"/>
    <path d="M 1233.9 357.2 
L 1233.9 357.2 
" clip-path="url(#p60090a97e6)" style="fill: none; stroke: #ff8c00; stroke-width: 4.6"/>
    <path d="M 1181.4 285.6 
L 1181.4 217.7 
" clip-path="url(#p60090a97e6)" style="fill: none; stroke: #ff8c00; stroke-width: 4.6"/>
    <path d="M 1197.3 313.7 
L 1197.3 282.7 
" clip-path="url(#p60090a97e6)" style="fill: none; stroke: #ff8c00; stroke-width: 4.6"/>
    <path d="M 1240.8 307.5 
L 1240.8 275.1 
" clip-path="url(#p60090a97e6)" style="fill: none; stroke: #ff8c00; stroke-width: 4.6"/>
    <path d="M 1248.4 306.7 
L 1248.4 224.6 
" clip-path="url(#p60090a97e6)" style="fill: none; stroke: #ff8c00; stroke-width: 4.6"/>
    <path d="M 1269.4 197.7 
L 1269.4 148.8 
" clip-path="url(#p60090a97e6)" style="fill: none; stroke: #ff8c00; stroke-width: 4.6"/>
    <path d="M 1266.2 234.9 
L 1266.2 200.9 
" clip-path="url(#p60090a97e6)" style="fill: none; stroke: #ff8c00; stroke-width: 4.6"/>
    <path d="M 1266.4 260 
L 1266.4 219.2 
" clip-path="url(#p60090a97e6)" style="fill: none; stroke: #ff8c00; stroke-width: 4.6"/>
    <path d="M 1295 242.4 
L 1295 242.4 
" clip-path="url(#p60090a97e6)" style="fill: none; stroke: #ff8c00; stroke-width: 4.6"/>
    <path d="M 1292.9 278.7 
L 1292.9 278.7 
" clip-path="url(#p60090a97e6)" style="fill: none; stroke: #ff8c00; stroke-width: 4.6"/>
   </g>
   <g id="LineCollection_3">
    <path d="M 1173.3 187.5 
L 1173.3 187.5 
" clip-path="url(#p60090a97e6)" style="fill: none; stroke: #008000; stroke-width: 4.6"/>
    <path d="M 1223.1 150.9 
L 1223.1 150.9 
" clip-path="url(#p60090a97e6)" style="fill: none; stroke: #008000; stroke-width: 4.6"/>
    <path d="M 1240.5 237.5 
L 1240.5 237.5 
" clip-path="url(#p60090a97e6)" style="fill: none; stroke: #008000; stroke-width: 4.6"/>
    <path d="M 1266.3 173.4 
L 1266.3 173.4 
" clip-path="url(#p60090a97e6)" style="fill: none; stroke: #008000; stroke-width: 4.6"/>
    <path d="M 1282.3 168.4 
L 1282.3 168.4 
" clip-path="url(#p60090a97e6)" style="fill: none; stroke: #008000; stroke-width: 4.6"/>
    <path d="M 1274.3 170.6 
L 1274.3 170.6 
" clip-path="url(#p60090a97e6)" style="fill: none; stroke: #008000; stroke-width: 4.6"/>
    <path d="M 1340 194.3 
L 1340 194.3 
" clip-path="url(#p60090a97e6)" style="fill: none; stroke: #008000; stroke-width: 4.6"/>
    <path d="M 1367.2 259.9 
L 1367.2 259.9 
" clip-path="url(#p60090a97e6)" style="fill: none; stroke: #008000; stroke-width: 4.6"/>
    <path d="M 1349.6 296.5 
L 1349.6 296.5 
" clip-path="url(#p60090a97e6)" style="fill: none; stroke: #008000; stroke-width: 4.6"/>
    <path d="M 1397.5 299.9 
L 1397.5 299.9 
" clip-path="url(#p60090a97e6)" style="fill: none; stroke: #008000; stroke-width: 4.6"/>
    <path d="M 1150.7 247.1 
L 1150.7 247.1 
" clip-path="url(#p60090a97e6)" style="fill: none; stroke: #008000; stroke-width: 4.6"/>
    <path d="M 1190.4 271.5 
L 1190.4 271.5 
" clip-path="url(#p60090a97e6)" style="fill: none; stroke: #008000; stroke-width: 4.6"/>
    <path d="M 1312.7 282.3 
L 1312.7 282.3 
" clip-path="url(#p60090a97e6)" style="fill: none; stroke: #008000; stroke-width: 4.6"/>
    <path d="M 1178.2 338.5 
L 1178.2 338.5 
" clip-path="url(#p60090a97e6)" style="fill: none; stroke: #008000; stroke-width: 4.6"/>
    <path d="M 1181.2 338.5 
L 1181.2 338.5 
" clip-path="url(#p60090a97e6)" style="fill: none; stroke: #008000; stroke-width: 4.6"/>
    <path d="M 1138 352.5 
L 1165.9 352.5 
" clip-path="url(#p60090a97e6)" style="fill: none; stroke: #008000; stroke-width: 4.6"/>
    <path d="M 1291.8 316.2 
L 1291.8 316.2 
" clip-path="url(#p60090a97e6)" style="fill: none; stroke: #008000; stroke-width: 4.6"/>
    <path d="M 1340.2 366.9 
L 1340.2 366.9 
" clip-path="url(#p60090a97e6)" style="fill: none; stroke: #008000; stroke-width: 4.6"/>
    <path d="M 1362.7 371.4 
L 1362.7 371.4 
" clip-path="url(#p60090a97e6)" style="fill: none; stroke: #008000; stroke-width: 4.6"/>
    <path d="M 1272.6 359.6 
L 1272.6 359.6 
" clip-path="url(#p60090a97e6)" style="fill: none; stroke: #008000; stroke-width: 4.6"/>
   </g>
   <g id="LineCollection_4">
    <path d="M 1173.3 187.5 
L 1173.3 187.5 
" clip-path="url(#p60090a97e6)" style="fill: none; stroke: #008000; stroke-width: 4.6"/>
    <path d="M 1223.1 175.5 
L 1223.1 126.3 
" clip-path="url(#p60090a97e6)" style="fill: none; stroke: #008000; stroke-width: 4.6"/>
    <path d="M 1240.5 237.5 
L 1240.5 237.5 
" clip-path="url(#p60090a97e6)" style="fill: none; stroke: #008000; stroke-width: 4.6"/>
    <path d="M 1266.3 173.4 
L 1266.3 173.4 
" clip-path="url(#p60090a97e6)" style="fill: none; stroke: #008000; stroke-width: 4.6"/>
    <path d="M 1282.3 168.4 
L 1282.3 168.4 
" clip-path="url(#p60090a97e6)" style="fill: none; stroke: #008000; stroke-width: 4.6"/>
    <path d="M 1274.3 170.6 
L 1274.3 170.6 
" clip-path="url(#p60090a97e6)" style="fill: none; stroke: #008000; stroke-width: 4.6"/>
    <path d="M 1340 194.3 
L 1340 194.3 
" clip-path="url(#p60090a97e6)" style="fill: none; stroke: #008000; stroke-width: 4.6"/>
    <path d="M 1367.2 259.9 
L 1367.2 259.9 
" clip-path="url(#p60090a97e6)" style="fill: none; stroke: #008000; stroke-width: 4.6"/>
    <path d="M 1349.6 296.5 
L 1349.6 296.5 
" clip-path="url(#p60090a97e6)" style="fill: none; stroke: #008000; stroke-width: 4.6"/>
    <path d="M 1397.5 299.9 
L 1397.5 299.9 
" clip-path="url(#p60090a97e6)" style="fill: none; stroke: #008000; stroke-width: 4.6"/>
    <path d="M 1150.7 247.1 
L 1150.7 247.1 
" clip-path="url(#p60090a97e6)" style="fill: none; stroke: #008000; stroke-width: 4.6"/>
    <path d="M 1190.4 281.5 
L 1190.4 235.1 
" clip-path="url(#p60090a97e6)" style="fill: none; stroke: #008000; stroke-width: 4.6"/>
    <path d="M 1312.7 282.3 
L 1312.7 282.3 
" clip-path="url(#p60090a97e6)" style="fill: none; stroke: #008000; stroke-width: 4.6"/>
    <path d="M 1178.2 338.5 
L 1178.2 338.5 
" clip-path="url(#p60090a97e6)" style="fill: none; stroke: #008000; stroke-width: 4.6"/>
    <path d="M 1181.2 338.5 
L 1181.2 338.5 
" clip-path="url(#p60090a97e6)" style="fill: none; stroke: #008000; stroke-width: 4.6"/>
    <path d="M 1155.9 352.5 
L 1155.9 352.5 
" clip-path="url(#p60090a97e6)" style="fill: none; stroke: #008000; stroke-width: 4.6"/>
    <path d="M 1291.8 316.2 
L 1291.8 316.2 
" clip-path="url(#p60090a97e6)" style="fill: none; stroke: #008000; stroke-width: 4.6"/>
    <path d="M 1340.2 366.9 
L 1340.2 366.9 
" clip-path="url(#p60090a97e6)" style="fill: none; stroke: #008000; stroke-width: 4.6"/>
    <path d="M 1362.7 371.4 
L 1362.7 371.4 
" clip-path="url(#p60090a97e6)" style="fill: none; stroke: #008000; stroke-width: 4.6"/>
    <path d="M 1272.6 359.6 
L 1272.6 359.6 
" clip-path="url(#p60090a97e6)" style="fill: none; stroke: #008000; stroke-width: 4.6"/>
   </g>
   <g id="line2d_64">
    <defs>
     
    </defs>
    <g clip-path="url(#p60090a97e6)">
     <path d="M 0 13 
C 3.44764 13 6.754538 11.630238 9.192388 9.192388 
C 11.630238 6.754538 13 3.44764 13 0 
C 13 -3.44764 11.630238 -6.754538 9.192388 -9.192388 
C 6.754538 -11.630238 3.44764 -13 0 -13 
C -3.44764 -13 -6.754538 -11.630238 -9.192388 -9.192388 
C -11.630238 -6.754538 -13 -3.44764 -13 0 
C -13 3.44764 -11.630238 6.754538 -9.192388 9.192388 
C -6.754538 11.630238 -3.44764 13 0 13 
z
" transform="translate(248.5 946.4)" style="fill: #ff8c00"/>
     <path d="M 0 13 
C 3.44764 13 6.754538 11.630238 9.192388 9.192388 
C 11.630238 6.754538 13 3.44764 13 0 
C 13 -3.44764 11.630238 -6.754538 9.192388 -9.192388 
C 6.754538 -11.630238 3.44764 -13 0 -13 
C -3.44764 -13 -6.754538 -11.630238 -9.192388 -9.192388 
C -11.630238 -6.754538 -13 -3.44764 -13 0 
C -13 3.44764 -11.630238 6.754538 -9.192388 9.192388 
C -6.754538 11.630238 -3.44764 13 0 13 
z
" transform="translate(787 586.6)" style="fill: #ff8c00"/>
     <path d="M 0 13 
C 3.44764 13 6.754538 11.630238 9.192388 9.192388 
C 11.630238 6.754538 13 3.44764 13 0 
C 13 -3.44764 11.630238 -6.754538 9.192388 -9.192388 
C 6.754538 -11.630238 3.44764 -13 0 -13 
C -3.44764 -13 -6.754538 -11.630238 -9.192388 -9.192388 
C -11.630238 -6.754538 -13 -3.44764 -13 0 
C -13 3.44764 -11.630238 6.754538 -9.192388 9.192388 
C -6.754538 11.630238 -3.44764 13 0 13 
z
" transform="translate(932.7 447.8)" style="fill: #ff8c00"/>
     <path d="M 0 13 
C 3.44764 13 6.754538 11.630238 9.192388 9.192388 
C 11.630238 6.754538 13 3.44764 13 0 
C 13 -3.44764 11.630238 -6.754538 9.192388 -9.192388 
C 6.754538 -11.630238 3.44764 -13 0 -13 
C -3.44764 -13 -6.754538 -11.630238 -9.192388 -9.192388 
C -11.630238 -6.754538 -13 -3.44764 -13 0 
C -13 3.44764 -11.630238 6.754538 -9.192388 9.192388 
C -6.754538 11.630238 -3.44764 13 0 13 
z
" transform="translate(928 464.4)" style="fill: #ff8c00"/>
     <path d="M 0 13 
C 3.44764 13 6.754538 11.630238 9.192388 9.192388 
C 11.630238 6.754538 13 3.44764 13 0 
C 13 -3.44764 11.630238 -6.754538 9.192388 -9.192388 
C 6.754538 -11.630238 3.44764 -13 0 -13 
C -3.44764 -13 -6.754538 -11.630238 -9.192388 -9.192388 
C -11.630238 -6.754538 -13 -3.44764 -13 0 
C -13 3.44764 -11.630238 6.754538 -9.192388 9.192388 
C -6.754538 11.630238 -3.44764 13 0 13 
z
" transform="translate(943.9 509.4)" style="fill: #ff8c00"/>
     <path d="M 0 13 
C 3.44764 13 6.754538 11.630238 9.192388 9.192388 
C 11.630238 6.754538 13 3.44764 13 0 
C 13 -3.44764 11.630238 -6.754538 9.192388 -9.192388 
C 6.754538 -11.630238 3.44764 -13 0 -13 
C -3.44764 -13 -6.754538 -11.630238 -9.192388 -9.192388 
C -11.630238 -6.754538 -13 -3.44764 -13 0 
C -13 3.44764 -11.630238 6.754538 -9.192388 9.192388 
C -6.754538 11.630238 -3.44764 13 0 13 
z
" transform="translate(997 466.4)" style="fill: #ff8c00"/>
     <path d="M 0 13 
C 3.44764 13 6.754538 11.630238 9.192388 9.192388 
C 11.630238 6.754538 13 3.44764 13 0 
C 13 -3.44764 11.630238 -6.754538 9.192388 -9.192388 
C 6.754538 -11.630238 3.44764 -13 0 -13 
C -3.44764 -13 -6.754538 -11.630238 -9.192388 -9.192388 
C -11.630238 -6.754538 -13 -3.44764 -13 0 
C -13 3.44764 -11.630238 6.754538 -9.192388 9.192388 
C -6.754538 11.630238 -3.44764 13 0 13 
z
" transform="translate(1029 508.1)" style="fill: #ff8c00"/>
     <path d="M 0 13 
C 3.44764 13 6.754538 11.630238 9.192388 9.192388 
C 11.630238 6.754538 13 3.44764 13 0 
C 13 -3.44764 11.630238 -6.754538 9.192388 -9.192388 
C 6.754538 -11.630238 3.44764 -13 0 -13 
C -3.44764 -13 -6.754538 -11.630238 -9.192388 -9.192388 
C -11.630238 -6.754538 -13 -3.44764 -13 0 
C -13 3.44764 -11.630238 6.754538 -9.192388 9.192388 
C -6.754538 11.630238 -3.44764 13 0 13 
z
" transform="translate(1067.5 440.3)" style="fill: #ff8c00"/>
     <path d="M 0 13 
C 3.44764 13 6.754538 11.630238 9.192388 9.192388 
C 11.630238 6.754538 13 3.44764 13 0 
C 13 -3.44764 11.630238 -6.754538 9.192388 -9.192388 
C 6.754538 -11.630238 3.44764 -13 0 -13 
C -3.44764 -13 -6.754538 -11.630238 -9.192388 -9.192388 
C -11.630238 -6.754538 -13 -3.44764 -13 0 
C -13 3.44764 -11.630238 6.754538 -9.192388 9.192388 
C -6.754538 11.630238 -3.44764 13 0 13 
z
" transform="translate(1053.1 385.4)" style="fill: #ff8c00"/>
     <path d="M 0 13 
C 3.44764 13 6.754538 11.630238 9.192388 9.192388 
C 11.630238 6.754538 13 3.44764 13 0 
C 13 -3.44764 11.630238 -6.754538 9.192388 -9.192388 
C 6.754538 -11.630238 3.44764 -13 0 -13 
C -3.44764 -13 -6.754538 -11.630238 -9.192388 -9.192388 
C -11.630238 -6.754538 -13 -3.44764 -13 0 
C -13 3.44764 -11.630238 6.754538 -9.192388 9.192388 
C -6.754538 11.630238 -3.44764 13 0 13 
z
" transform="translate(1067.5 361.7)" style="fill: #ff8c00"/>
     <path d="M 0 13 
C 3.44764 13 6.754538 11.630238 9.192388 9.192388 
C 11.630238 6.754538 13 3.44764 13 0 
C 13 -3.44764 11.630238 -6.754538 9.192388 -9.192388 
C 6.754538 -11.630238 3.44764 -13 0 -13 
C -3.44764 -13 -6.754538 -11.630238 -9.192388 -9.192388 
C -11.630238 -6.754538 -13 -3.44764 -13 0 
C -13 3.44764 -11.630238 6.754538 -9.192388 9.192388 
C -6.754538 11.630238 -3.44764 13 0 13 
z
" transform="translate(1109.2 374.8)" style="fill: #ff8c00"/>
     <path d="M 0 13 
C 3.44764 13 6.754538 11.630238 9.192388 9.192388 
C 11.630238 6.754538 13 3.44764 13 0 
C 13 -3.44764 11.630238 -6.754538 9.192388 -9.192388 
C 6.754538 -11.630238 3.44764 -13 0 -13 
C -3.44764 -13 -6.754538 -11.630238 -9.192388 -9.192388 
C -11.630238 -6.754538 -13 -3.44764 -13 0 
C -13 3.44764 -11.630238 6.754538 -9.192388 9.192388 
C -6.754538 11.630238 -3.44764 13 0 13 
z
" transform="translate(1105.6 337.1)" style="fill: #ff8c00"/>
     <path d="M 0 13 
C 3.44764 13 6.754538 11.630238 9.192388 9.192388 
C 11.630238 6.754538 13 3.44764 13 0 
C 13 -3.44764 11.630238 -6.754538 9.192388 -9.192388 
C 6.754538 -11.630238 3.44764 -13 0 -13 
C -3.44764 -13 -6.754538 -11.630238 -9.192388 -9.192388 
C -11.630238 -6.754538 -13 -3.44764 -13 0 
C -13 3.44764 -11.630238 6.754538 -9.192388 9.192388 
C -6.754538 11.630238 -3.44764 13 0 13 
z
" transform="translate(1112.3 331.5)" style="fill: #ff8c00"/>
     <path d="M 0 13 
C 3.44764 13 6.754538 11.630238 9.192388 9.192388 
C 11.630238 6.754538 13 3.44764 13 0 
C 13 -3.44764 11.630238 -6.754538 9.192388 -9.192388 
C 6.754538 -11.630238 3.44764 -13 0 -13 
C -3.44764 -13 -6.754538 -11.630238 -9.192388 -9.192388 
C -11.630238 -6.754538 -13 -3.44764 -13 0 
C -13 3.44764 -11.630238 6.754538 -9.192388 9.192388 
C -6.754538 11.630238 -3.44764 13 0 13 
z
" transform="translate(1157.2 298.9)" style="fill: #ff8c00"/>
     <path d="M 0 13 
C 3.44764 13 6.754538 11.630238 9.192388 9.192388 
C 11.630238 6.754538 13 3.44764 13 0 
C 13 -3.44764 11.630238 -6.754538 9.192388 -9.192388 
C 6.754538 -11.630238 3.44764 -13 0 -13 
C -3.44764 -13 -6.754538 -11.630238 -9.192388 -9.192388 
C -11.630238 -6.754538 -13 -3.44764 -13 0 
C -13 3.44764 -11.630238 6.754538 -9.192388 9.192388 
C -6.754538 11.630238 -3.44764 13 0 13 
z
" transform="translate(1152.4 306.8)" style="fill: #ff8c00"/>
     <path d="M 0 13 
C 3.44764 13 6.754538 11.630238 9.192388 9.192388 
C 11.630238 6.754538 13 3.44764 13 0 
C 13 -3.44764 11.630238 -6.754538 9.192388 -9.192388 
C 6.754538 -11.630238 3.44764 -13 0 -13 
C -3.44764 -13 -6.754538 -11.630238 -9.192388 -9.192388 
C -11.630238 -6.754538 -13 -3.44764 -13 0 
C -13 3.44764 -11.630238 6.754538 -9.192388 9.192388 
C -6.754538 11.630238 -3.44764 13 0 13 
z
" transform="translate(1173.4 319.1)" style="fill: #ff8c00"/>
     <path d="M 0 13 
C 3.44764 13 6.754538 11.630238 9.192388 9.192388 
C 11.630238 6.754538 13 3.44764 13 0 
C 13 -3.44764 11.630238 -6.754538 9.192388 -9.192388 
C 6.754538 -11.630238 3.44764 -13 0 -13 
C -3.44764 -13 -6.754538 -11.630238 -9.192388 -9.192388 
C -11.630238 -6.754538 -13 -3.44764 -13 0 
C -13 3.44764 -11.630238 6.754538 -9.192388 9.192388 
C -6.754538 11.630238 -3.44764 13 0 13 
z
" transform="translate(1147.9 380.2)" style="fill: #ff8c00"/>
     <path d="M 0 13 
C 3.44764 13 6.754538 11.630238 9.192388 9.192388 
C 11.630238 6.754538 13 3.44764 13 0 
C 13 -3.44764 11.630238 -6.754538 9.192388 -9.192388 
C 6.754538 -11.630238 3.44764 -13 0 -13 
C -3.44764 -13 -6.754538 -11.630238 -9.192388 -9.192388 
C -11.630238 -6.754538 -13 -3.44764 -13 0 
C -13 3.44764 -11.630238 6.754538 -9.192388 9.192388 
C -6.754538 11.630238 -3.44764 13 0 13 
z
" transform="translate(1160.4 376.9)" style="fill: #ff8c00"/>
     <path d="M 0 13 
C 3.44764 13 6.754538 11.630238 9.192388 9.192388 
C 11.630238 6.754538 13 3.44764 13 0 
C 13 -3.44764 11.630238 -6.754538 9.192388 -9.192388 
C 6.754538 -11.630238 3.44764 -13 0 -13 
C -3.44764 -13 -6.754538 -11.630238 -9.192388 -9.192388 
C -11.630238 -6.754538 -13 -3.44764 -13 0 
C -13 3.44764 -11.630238 6.754538 -9.192388 9.192388 
C -6.754538 11.630238 -3.44764 13 0 13 
z
" transform="translate(1158.3 350.3)" style="fill: #ff8c00"/>
     <path d="M 0 13 
C 3.44764 13 6.754538 11.630238 9.192388 9.192388 
C 11.630238 6.754538 13 3.44764 13 0 
C 13 -3.44764 11.630238 -6.754538 9.192388 -9.192388 
C 6.754538 -11.630238 3.44764 -13 0 -13 
C -3.44764 -13 -6.754538 -11.630238 -9.192388 -9.192388 
C -11.630238 -6.754538 -13 -3.44764 -13 0 
C -13 3.44764 -11.630238 6.754538 -9.192388 9.192388 
C -6.754538 11.630238 -3.44764 13 0 13 
z
" transform="translate(1171.2 372.6)" style="fill: #ff8c00"/>
     <path d="M 0 13 
C 3.44764 13 6.754538 11.630238 9.192388 9.192388 
C 11.630238 6.754538 13 3.44764 13 0 
C 13 -3.44764 11.630238 -6.754538 9.192388 -9.192388 
C 6.754538 -11.630238 3.44764 -13 0 -13 
C -3.44764 -13 -6.754538 -11.630238 -9.192388 -9.192388 
C -11.630238 -6.754538 -13 -3.44764 -13 0 
C -13 3.44764 -11.630238 6.754538 -9.192388 9.192388 
C -6.754538 11.630238 -3.44764 13 0 13 
z
" transform="translate(1178.4 340)" style="fill: #ff8c00"/>
     <path d="M 0 13 
C 3.44764 13 6.754538 11.630238 9.192388 9.192388 
C 11.630238 6.754538 13 3.44764 13 0 
C 13 -3.44764 11.630238 -6.754538 9.192388 -9.192388 
C 6.754538 -11.630238 3.44764 -13 0 -13 
C -3.44764 -13 -6.754538 -11.630238 -9.192388 -9.192388 
C -11.630238 -6.754538 -13 -3.44764 -13 0 
C -13 3.44764 -11.630238 6.754538 -9.192388 9.192388 
C -6.754538 11.630238 -3.44764 13 0 13 
z
" transform="translate(1233.9 357.2)" style="fill: #ff8c00"/>
     <path d="M 0 13 
C 3.44764 13 6.754538 11.630238 9.192388 9.192388 
C 11.630238 6.754538 13 3.44764 13 0 
C 13 -3.44764 11.630238 -6.754538 9.192388 -9.192388 
C 6.754538 -11.630238 3.44764 -13 0 -13 
C -3.44764 -13 -6.754538 -11.630238 -9.192388 -9.192388 
C -11.630238 -6.754538 -13 -3.44764 -13 0 
C -13 3.44764 -11.630238 6.754538 -9.192388 9.192388 
C -6.754538 11.630238 -3.44764 13 0 13 
z
" transform="translate(1181.4 251.6)" style="fill: #ff8c00"/>
     <path d="M 0 13 
C 3.44764 13 6.754538 11.630238 9.192388 9.192388 
C 11.630238 6.754538 13 3.44764 13 0 
C 13 -3.44764 11.630238 -6.754538 9.192388 -9.192388 
C 6.754538 -11.630238 3.44764 -13 0 -13 
C -3.44764 -13 -6.754538 -11.630238 -9.192388 -9.192388 
C -11.630238 -6.754538 -13 -3.44764 -13 0 
C -13 3.44764 -11.630238 6.754538 -9.192388 9.192388 
C -6.754538 11.630238 -3.44764 13 0 13 
z
" transform="translate(1197.3 292.7)" style="fill: #ff8c00"/>
     <path d="M 0 13 
C 3.44764 13 6.754538 11.630238 9.192388 9.192388 
C 11.630238 6.754538 13 3.44764 13 0 
C 13 -3.44764 11.630238 -6.754538 9.192388 -9.192388 
C 6.754538 -11.630238 3.44764 -13 0 -13 
C -3.44764 -13 -6.754538 -11.630238 -9.192388 -9.192388 
C -11.630238 -6.754538 -13 -3.44764 -13 0 
C -13 3.44764 -11.630238 6.754538 -9.192388 9.192388 
C -6.754538 11.630238 -3.44764 13 0 13 
z
" transform="translate(1240.8 297.5)" style="fill: #ff8c00"/>
     <path d="M 0 13 
C 3.44764 13 6.754538 11.630238 9.192388 9.192388 
C 11.630238 6.754538 13 3.44764 13 0 
C 13 -3.44764 11.630238 -6.754538 9.192388 -9.192388 
C 6.754538 -11.630238 3.44764 -13 0 -13 
C -3.44764 -13 -6.754538 -11.630238 -9.192388 -9.192388 
C -11.630238 -6.754538 -13 -3.44764 -13 0 
C -13 3.44764 -11.630238 6.754538 -9.192388 9.192388 
C -6.754538 11.630238 -3.44764 13 0 13 
z
" transform="translate(1248.4 291.1)" style="fill: #ff8c00"/>
     <path d="M 0 13 
C 3.44764 13 6.754538 11.630238 9.192388 9.192388 
C 11.630238 6.754538 13 3.44764 13 0 
C 13 -3.44764 11.630238 -6.754538 9.192388 -9.192388 
C 6.754538 -11.630238 3.44764 -13 0 -13 
C -3.44764 -13 -6.754538 -11.630238 -9.192388 -9.192388 
C -11.630238 -6.754538 -13 -3.44764 -13 0 
C -13 3.44764 -11.630238 6.754538 -9.192388 9.192388 
C -6.754538 11.630238 -3.44764 13 0 13 
z
" transform="translate(1269.4 178.9)" style="fill: #ff8c00"/>
     <path d="M 0 13 
C 3.44764 13 6.754538 11.630238 9.192388 9.192388 
C 11.630238 6.754538 13 3.44764 13 0 
C 13 -3.44764 11.630238 -6.754538 9.192388 -9.192388 
C 6.754538 -11.630238 3.44764 -13 0 -13 
C -3.44764 -13 -6.754538 -11.630238 -9.192388 -9.192388 
C -11.630238 -6.754538 -13 -3.44764 -13 0 
C -13 3.44764 -11.630238 6.754538 -9.192388 9.192388 
C -6.754538 11.630238 -3.44764 13 0 13 
z
" transform="translate(1266.2 217.9)" style="fill: #ff8c00"/>
     <path d="M 0 13 
C 3.44764 13 6.754538 11.630238 9.192388 9.192388 
C 11.630238 6.754538 13 3.44764 13 0 
C 13 -3.44764 11.630238 -6.754538 9.192388 -9.192388 
C 6.754538 -11.630238 3.44764 -13 0 -13 
C -3.44764 -13 -6.754538 -11.630238 -9.192388 -9.192388 
C -11.630238 -6.754538 -13 -3.44764 -13 0 
C -13 3.44764 -11.630238 6.754538 -9.192388 9.192388 
C -6.754538 11.630238 -3.44764 13 0 13 
z
" transform="translate(1266.4 239.6)" style="fill: #ff8c00"/>
     <path d="M 0 13 
C 3.44764 13 6.754538 11.630238 9.192388 9.192388 
C 11.630238 6.754538 13 3.44764 13 0 
C 13 -3.44764 11.630238 -6.754538 9.192388 -9.192388 
C 6.754538 -11.630238 3.44764 -13 0 -13 
C -3.44764 -13 -6.754538 -11.630238 -9.192388 -9.192388 
C -11.630238 -6.754538 -13 -3.44764 -13 0 
C -13 3.44764 -11.630238 6.754538 -9.192388 9.192388 
C -6.754538 11.630238 -3.44764 13 0 13 
z
" transform="translate(1295 242.4)" style="fill: #ff8c00"/>
     <path d="M 0 13 
C 3.44764 13 6.754538 11.630238 9.192388 9.192388 
C 11.630238 6.754538 13 3.44764 13 0 
C 13 -3.44764 11.630238 -6.754538 9.192388 -9.192388 
C 6.754538 -11.630238 3.44764 -13 0 -13 
C -3.44764 -13 -6.754538 -11.630238 -9.192388 -9.192388 
C -11.630238 -6.754538 -13 -3.44764 -13 0 
C -13 3.44764 -11.630238 6.754538 -9.192388 9.192388 
C -6.754538 11.630238 -3.44764 13 0 13 
z
" transform="translate(1292.9 278.7)" style="fill: #ff8c00"/>
    </g>
   </g>
   <g id="line2d_65">
    <defs>
     
    </defs>
    <g clip-path="url(#p60090a97e6)">
     <path d="M 0 14.5 
C 3.845445 14.5 7.533908 12.972189 10.253048 10.253048 
C 12.972189 7.533908 14.5 3.845445 14.5 0 
C 14.5 -3.845445 12.972189 -7.533908 10.253048 -10.253048 
C 7.533908 -12.972189 3.845445 -14.5 0 -14.5 
C -3.845445 -14.5 -7.533908 -12.972189 -10.253048 -10.253048 
C -12.972189 -7.533908 -14.5 -3.845445 -14.5 0 
C -14.5 3.845445 -12.972189 7.533908 -10.253048 10.253048 
C -7.533908 12.972189 -3.845445 14.5 0 14.5 
z
" transform="translate(1173.3 187.5)" style="fill: #008000"/>
     <path d="M 0 14.5 
C 3.845445 14.5 7.533908 12.972189 10.253048 10.253048 
C 12.972189 7.533908 14.5 3.845445 14.5 0 
C 14.5 -3.845445 12.972189 -7.533908 10.253048 -10.253048 
C 7.533908 -12.972189 3.845445 -14.5 0 -14.5 
C -3.845445 -14.5 -7.533908 -12.972189 -10.253048 -10.253048 
C -12.972189 -7.533908 -14.5 -3.845445 -14.5 0 
C -14.5 3.845445 -12.972189 7.533908 -10.253048 10.253048 
C -7.533908 12.972189 -3.845445 14.5 0 14.5 
z
" transform="translate(1223.1 150.9)" style="fill: #008000"/>
     <path d="M 0 14.5 
C 3.845445 14.5 7.533908 12.972189 10.253048 10.253048 
C 12.972189 7.533908 14.5 3.845445 14.5 0 
C 14.5 -3.845445 12.972189 -7.533908 10.253048 -10.253048 
C 7.533908 -12.972189 3.845445 -14.5 0 -14.5 
C -3.845445 -14.5 -7.533908 -12.972189 -10.253048 -10.253048 
C -12.972189 -7.533908 -14.5 -3.845445 -14.5 0 
C -14.5 3.845445 -12.972189 7.533908 -10.253048 10.253048 
C -7.533908 12.972189 -3.845445 14.5 0 14.5 
z
" transform="translate(1240.5 237.5)" style="fill: #008000"/>
     <path d="M 0 14.5 
C 3.845445 14.5 7.533908 12.972189 10.253048 10.253048 
C 12.972189 7.533908 14.5 3.845445 14.5 0 
C 14.5 -3.845445 12.972189 -7.533908 10.253048 -10.253048 
C 7.533908 -12.972189 3.845445 -14.5 0 -14.5 
C -3.845445 -14.5 -7.533908 -12.972189 -10.253048 -10.253048 
C -12.972189 -7.533908 -14.5 -3.845445 -14.5 0 
C -14.5 3.845445 -12.972189 7.533908 -10.253048 10.253048 
C -7.533908 12.972189 -3.845445 14.5 0 14.5 
z
" transform="translate(1266.3 173.4)" style="fill: #008000"/>
     <path d="M 0 14.5 
C 3.845445 14.5 7.533908 12.972189 10.253048 10.253048 
C 12.972189 7.533908 14.5 3.845445 14.5 0 
C 14.5 -3.845445 12.972189 -7.533908 10.253048 -10.253048 
C 7.533908 -12.972189 3.845445 -14.5 0 -14.5 
C -3.845445 -14.5 -7.533908 -12.972189 -10.253048 -10.253048 
C -12.972189 -7.533908 -14.5 -3.845445 -14.5 0 
C -14.5 3.845445 -12.972189 7.533908 -10.253048 10.253048 
C -7.533908 12.972189 -3.845445 14.5 0 14.5 
z
" transform="translate(1282.3 168.4)" style="fill: #008000"/>
     <path d="M 0 14.5 
C 3.845445 14.5 7.533908 12.972189 10.253048 10.253048 
C 12.972189 7.533908 14.5 3.845445 14.5 0 
C 14.5 -3.845445 12.972189 -7.533908 10.253048 -10.253048 
C 7.533908 -12.972189 3.845445 -14.5 0 -14.5 
C -3.845445 -14.5 -7.533908 -12.972189 -10.253048 -10.253048 
C -12.972189 -7.533908 -14.5 -3.845445 -14.5 0 
C -14.5 3.845445 -12.972189 7.533908 -10.253048 10.253048 
C -7.533908 12.972189 -3.845445 14.5 0 14.5 
z
" transform="translate(1274.3 170.6)" style="fill: #008000"/>
     <path d="M 0 14.5 
C 3.845445 14.5 7.533908 12.972189 10.253048 10.253048 
C 12.972189 7.533908 14.5 3.845445 14.5 0 
C 14.5 -3.845445 12.972189 -7.533908 10.253048 -10.253048 
C 7.533908 -12.972189 3.845445 -14.5 0 -14.5 
C -3.845445 -14.5 -7.533908 -12.972189 -10.253048 -10.253048 
C -12.972189 -7.533908 -14.5 -3.845445 -14.5 0 
C -14.5 3.845445 -12.972189 7.533908 -10.253048 10.253048 
C -7.533908 12.972189 -3.845445 14.5 0 14.5 
z
" transform="translate(1340 194.3)" style="fill: #008000"/>
     <path d="M 0 14.5 
C 3.845445 14.5 7.533908 12.972189 10.253048 10.253048 
C 12.972189 7.533908 14.5 3.845445 14.5 0 
C 14.5 -3.845445 12.972189 -7.533908 10.253048 -10.253048 
C 7.533908 -12.972189 3.845445 -14.5 0 -14.5 
C -3.845445 -14.5 -7.533908 -12.972189 -10.253048 -10.253048 
C -12.972189 -7.533908 -14.5 -3.845445 -14.5 0 
C -14.5 3.845445 -12.972189 7.533908 -10.253048 10.253048 
C -7.533908 12.972189 -3.845445 14.5 0 14.5 
z
" transform="translate(1367.2 259.9)" style="fill: #008000"/>
     <path d="M 0 14.5 
C 3.845445 14.5 7.533908 12.972189 10.253048 10.253048 
C 12.972189 7.533908 14.5 3.845445 14.5 0 
C 14.5 -3.845445 12.972189 -7.533908 10.253048 -10.253048 
C 7.533908 -12.972189 3.845445 -14.5 0 -14.5 
C -3.845445 -14.5 -7.533908 -12.972189 -10.253048 -10.253048 
C -12.972189 -7.533908 -14.5 -3.845445 -14.5 0 
C -14.5 3.845445 -12.972189 7.533908 -10.253048 10.253048 
C -7.533908 12.972189 -3.845445 14.5 0 14.5 
z
" transform="translate(1349.6 296.5)" style="fill: #008000"/>
     <path d="M 0 14.5 
C 3.845445 14.5 7.533908 12.972189 10.253048 10.253048 
C 12.972189 7.533908 14.5 3.845445 14.5 0 
C 14.5 -3.845445 12.972189 -7.533908 10.253048 -10.253048 
C 7.533908 -12.972189 3.845445 -14.5 0 -14.5 
C -3.845445 -14.5 -7.533908 -12.972189 -10.253048 -10.253048 
C -12.972189 -7.533908 -14.5 -3.845445 -14.5 0 
C -14.5 3.845445 -12.972189 7.533908 -10.253048 10.253048 
C -7.533908 12.972189 -3.845445 14.5 0 14.5 
z
" transform="translate(1397.5 299.9)" style="fill: #008000"/>
     <path d="M 0 14.5 
C 3.845445 14.5 7.533908 12.972189 10.253048 10.253048 
C 12.972189 7.533908 14.5 3.845445 14.5 0 
C 14.5 -3.845445 12.972189 -7.533908 10.253048 -10.253048 
C 7.533908 -12.972189 3.845445 -14.5 0 -14.5 
C -3.845445 -14.5 -7.533908 -12.972189 -10.253048 -10.253048 
C -12.972189 -7.533908 -14.5 -3.845445 -14.5 0 
C -14.5 3.845445 -12.972189 7.533908 -10.253048 10.253048 
C -7.533908 12.972189 -3.845445 14.5 0 14.5 
z
" transform="translate(1150.7 247.1)" style="fill: #008000"/>
     <path d="M 0 14.5 
C 3.845445 14.5 7.533908 12.972189 10.253048 10.253048 
C 12.972189 7.533908 14.5 3.845445 14.5 0 
C 14.5 -3.845445 12.972189 -7.533908 10.253048 -10.253048 
C 7.533908 -12.972189 3.845445 -14.5 0 -14.5 
C -3.845445 -14.5 -7.533908 -12.972189 -10.253048 -10.253048 
C -12.972189 -7.533908 -14.5 -3.845445 -14.5 0 
C -14.5 3.845445 -12.972189 7.533908 -10.253048 10.253048 
C -7.533908 12.972189 -3.845445 14.5 0 14.5 
z
" transform="translate(1190.4 271.5)" style="fill: #008000"/>
     <path d="M 0 14.5 
C 3.845445 14.5 7.533908 12.972189 10.253048 10.253048 
C 12.972189 7.533908 14.5 3.845445 14.5 0 
C 14.5 -3.845445 12.972189 -7.533908 10.253048 -10.253048 
C 7.533908 -12.972189 3.845445 -14.5 0 -14.5 
C -3.845445 -14.5 -7.533908 -12.972189 -10.253048 -10.253048 
C -12.972189 -7.533908 -14.5 -3.845445 -14.5 0 
C -14.5 3.845445 -12.972189 7.533908 -10.253048 10.253048 
C -7.533908 12.972189 -3.845445 14.5 0 14.5 
z
" transform="translate(1312.7 282.3)" style="fill: #008000"/>
     <path d="M 0 14.5 
C 3.845445 14.5 7.533908 12.972189 10.253048 10.253048 
C 12.972189 7.533908 14.5 3.845445 14.5 0 
C 14.5 -3.845445 12.972189 -7.533908 10.253048 -10.253048 
C 7.533908 -12.972189 3.845445 -14.5 0 -14.5 
C -3.845445 -14.5 -7.533908 -12.972189 -10.253048 -10.253048 
C -12.972189 -7.533908 -14.5 -3.845445 -14.5 0 
C -14.5 3.845445 -12.972189 7.533908 -10.253048 10.253048 
C -7.533908 12.972189 -3.845445 14.5 0 14.5 
z
" transform="translate(1178.2 338.5)" style="fill: #008000"/>
     <path d="M 0 14.5 
C 3.845445 14.5 7.533908 12.972189 10.253048 10.253048 
C 12.972189 7.533908 14.5 3.845445 14.5 0 
C 14.5 -3.845445 12.972189 -7.533908 10.253048 -10.253048 
C 7.533908 -12.972189 3.845445 -14.5 0 -14.5 
C -3.845445 -14.5 -7.533908 -12.972189 -10.253048 -10.253048 
C -12.972189 -7.533908 -14.5 -3.845445 -14.5 0 
C -14.5 3.845445 -12.972189 7.533908 -10.253048 10.253048 
C -7.533908 12.972189 -3.845445 14.5 0 14.5 
z
" transform="translate(1181.2 338.5)" style="fill: #008000"/>
     <path d="M 0 14.5 
C 3.845445 14.5 7.533908 12.972189 10.253048 10.253048 
C 12.972189 7.533908 14.5 3.845445 14.5 0 
C 14.5 -3.845445 12.972189 -7.533908 10.253048 -10.253048 
C 7.533908 -12.972189 3.845445 -14.5 0 -14.5 
C -3.845445 -14.5 -7.533908 -12.972189 -10.253048 -10.253048 
C -12.972189 -7.533908 -14.5 -3.845445 -14.5 0 
C -14.5 3.845445 -12.972189 7.533908 -10.253048 10.253048 
C -7.533908 12.972189 -3.845445 14.5 0 14.5 
z
" transform="translate(1155.9 352.5)" style="fill: #008000"/>
     <path d="M 0 14.5 
C 3.845445 14.5 7.533908 12.972189 10.253048 10.253048 
C 12.972189 7.533908 14.5 3.845445 14.5 0 
C 14.5 -3.845445 12.972189 -7.533908 10.253048 -10.253048 
C 7.533908 -12.972189 3.845445 -14.5 0 -14.5 
C -3.845445 -14.5 -7.533908 -12.972189 -10.253048 -10.253048 
C -12.972189 -7.533908 -14.5 -3.845445 -14.5 0 
C -14.5 3.845445 -12.972189 7.533908 -10.253048 10.253048 
C -7.533908 12.972189 -3.845445 14.5 0 14.5 
z
" transform="translate(1291.8 316.2)" style="fill: #008000"/>
     <path d="M 0 14.5 
C 3.845445 14.5 7.533908 12.972189 10.253048 10.253048 
C 12.972189 7.533908 14.5 3.845445 14.5 0 
C 14.5 -3.845445 12.972189 -7.533908 10.253048 -10.253048 
C 7.533908 -12.972189 3.845445 -14.5 0 -14.5 
C -3.845445 -14.5 -7.533908 -12.972189 -10.253048 -10.253048 
C -12.972189 -7.533908 -14.5 -3.845445 -14.5 0 
C -14.5 3.845445 -12.972189 7.533908 -10.253048 10.253048 
C -7.533908 12.972189 -3.845445 14.5 0 14.5 
z
" transform="translate(1340.2 366.9)" style="fill: #008000"/>
     <path d="M 0 14.5 
C 3.845445 14.5 7.533908 12.972189 10.253048 10.253048 
C 12.972189 7.533908 14.5 3.845445 14.5 0 
C 14.5 -3.845445 12.972189 -7.533908 10.253048 -10.253048 
C 7.533908 -12.972189 3.845445 -14.5 0 -14.5 
C -3.845445 -14.5 -7.533908 -12.972189 -10.253048 -10.253048 
C -12.972189 -7.533908 -14.5 -3.845445 -14.5 0 
C -14.5 3.845445 -12.972189 7.533908 -10.253048 10.253048 
C -7.533908 12.972189 -3.845445 14.5 0 14.5 
z
" transform="translate(1362.7 371.4)" style="fill: #008000"/>
     <path d="M 0 14.5 
C 3.845445 14.5 7.533908 12.972189 10.253048 10.253048 
C 12.972189 7.533908 14.5 3.845445 14.5 0 
C 14.5 -3.845445 12.972189 -7.533908 10.253048 -10.253048 
C 7.533908 -12.972189 3.845445 -14.5 0 -14.5 
C -3.845445 -14.5 -7.533908 -12.972189 -10.253048 -10.253048 
C -12.972189 -7.533908 -14.5 -3.845445 -14.5 0 
C -14.5 3.845445 -12.972189 7.533908 -10.253048 10.253048 
C -7.533908 12.972189 -3.845445 14.5 0 14.5 
z
" transform="translate(1272.6 359.6)" style="fill: #008000"/>
    </g>
   </g>
   <g id="patch_18">
    <path d="M 147.5 1069.2 
L 147.5 15.4 
" style="fill: none; stroke: #000000; stroke-width: 2.8; stroke-linejoin: miter; stroke-linecap: square"/>
   </g>
   <g id="patch_19">
    <path d="M 1589.9 1069.2 
L 1589.9 15.4 
" style="fill: none; stroke: #000000; stroke-width: 2.8; stroke-linejoin: miter; stroke-linecap: square"/>
   </g>
   <g id="patch_20">
    <path d="M 147.5 1069.2 
L 1589.9 1069.2 
" style="fill: none; stroke: #000000; stroke-width: 2.8; stroke-linejoin: miter; stroke-linecap: square"/>
   </g>
   <g id="patch_21">
    <path d="M 147.5 15.4 
L 1589.9 15.4 
" style="fill: none; stroke: #000000; stroke-width: 2.8; stroke-linejoin: miter; stroke-linecap: square"/>
   </g>
   <g id="LineCollection_5">
    <path d="M 1069.05 296.7 
L 1113.85 296.7 
" clip-path="url(#p60090a97e6)" style="fill: none; stroke: #0000ff; stroke-width: 4.6"/>
   </g>
   <g id="line2d_66">
    <defs>
     
    </defs>
    <g clip-path="url(#p60090a97e6)">
     <path d="M 0 -29.15 
L -6.544583 -9.007845 
L -27.723297 -9.007845 
L -10.589357 3.440691 
L -17.13394 23.582845 
L -0 11.134309 
L 17.13394 23.582845 
L 10.589357 3.440691 
L 27.723297 -9.007845 
L 6.544583 -9.007845 
z
" transform="translate(1091.45 296.7)" style="fill: #0000ff; stroke: #0000ff; stroke-width: 3.5; stroke-linejoin: bevel"/>
    </g>
   </g>
   <g id="line2d_67">
    <defs>
     
    </defs>
    <g clip-path="url(#p60090a97e6)">
     <path d="M 0 -29.15 
L -6.544583 -9.007845 
L -27.723297 -9.007845 
L -10.589357 3.440691 
L -17.13394 23.582845 
L -0 11.134309 
L 17.13394 23.582845 
L 10.589357 3.440691 
L 27.723297 -9.007845 
L 6.544583 -9.007845 
z
" transform="translate(1218.2 370.6)" style="fill: #ff0000; stroke: #ff0000; stroke-width: 3.5; stroke-linejoin: bevel"/>
    </g>
   </g>
   <g id="legend_1">
    <g id="patch_22">
     <path d="M 170.075 230.547813 
L 522.854727 230.547813 
Q 529.304727 230.547813 529.304727 224.097813 
L 529.304727 37.975 
Q 529.304727 31.525 522.854727 31.525 
L 170.075 31.525 
Q 163.625 31.525 163.625 37.975 
L 163.625 224.097813 
Q 163.625 230.547813 170.075 230.547813 
z
" style="fill: #ffffff; opacity: 0.8; stroke: #cccccc; stroke-width: 3.5; stroke-linejoin: miter"/>
    </g>
    <g id="LineCollection_6">
     <path d="M 192.65 57.642461 
L 224.9 57.642461 
" style="fill: none; stroke: #ff8c00; stroke-width: 4.6"/>
    </g>
    <g id="LineCollection_7">
     <path d="M 208.775 73.767461 
L 208.775 41.517461 
" style="fill: none; stroke: #ff8c00; stroke-width: 4.6"/>
    </g>
    <g id="line2d_68"/>
    <g id="line2d_69">
     <g>
      <path d="M 0 13 
C 3.44764 13 6.754538 11.630238 9.192388 9.192388 
C 11.630238 6.754538 13 3.44764 13 0 
C 13 -3.44764 11.630238 -6.754538 9.192388 -9.192388 
C 6.754538 -11.630238 3.44764 -13 0 -13 
C -3.44764 -13 -6.754538 -11.630238 -9.192388 -9.192388 
C -11.630238 -6.754538 -13 -3.44764 -13 0 
C -13 3.44764 -11.630238 6.754538 -9.192388 9.192388 
C -6.754538 11.630238 -3.44764 13 0 13 
z
" transform="translate(208.775 57.642461)" style="fill: #ff8c00"/>
     </g>
    </g>
    <g id="text_23">
     <text style="font-size: 32.25px; font-family: 'DejaVu Sans', 'Liberation Sans', sans-serif; text-anchor: start" x="266.825" y="68.929961" transform="rotate(-0 266.825 68.929961)">lGRBs</text>
    </g>
    <g id="LineCollection_8">
     <path d="M 192.65 104.979414 
L 224.9 104.979414 
" style="fill: none; stroke: #008000; stroke-width: 4.6"/>
    </g>
    <g id="LineCollection_9">
     <path d="M 208.775 121.104414 
L 208.775 88.854414 
" style="fill: none; stroke: #008000; stroke-width: 4.6"/>
    </g>
    <g id="line2d_70"/>
    <g id="line2d_71">
     <g>
      <path d="M 0 14.5 
C 3.845445 14.5 7.533908 12.972189 10.253048 10.253048 
C 12.972189 7.533908 14.5 3.845445 14.5 0 
C 14.5 -3.845445 12.972189 -7.533908 10.253048 -10.253048 
C 7.533908 -12.972189 3.845445 -14.5 0 -14.5 
C -3.845445 -14.5 -7.533908 -12.972189 -10.253048 -10.253048 
C -12.972189 -7.533908 -14.5 -3.845445 -14.5 0 
C -14.5 3.845445 -12.972189 7.533908 -10.253048 10.253048 
C -7.533908 12.972189 -3.845445 14.5 0 14.5 
z
" transform="translate(208.775 104.979414)" style="fill: #008000"/>
     </g>
    </g>
    <g id="text_24">
     <text style="font-size: 32.25px; font-family: 'DejaVu Sans', 'Liberation Sans', sans-serif; text-anchor: start" x="266.825" y="116.266914" transform="rotate(-0 266.825 116.266914)">Energetic GRBs</text>
    </g>
    <g id="line2d_72">
     <g>
      <path d="M 0 -29.15 
L -6.544583 -9.007845 
L -27.723297 -9.007845 
L -10.589357 3.440691 
L -17.13394 23.582845 
L -0 11.134309 
L 17.13394 23.582845 
L 10.589357 3.440691 
L 27.723297 -9.007845 
L 6.544583 -9.007845 
z
" transform="translate(208.775 152.316367)" style="fill: #0000ff; stroke: #0000ff; stroke-width: 3.5; stroke-linejoin: bevel"/>
     </g>
    </g>
    <g id="text_25">
     <text style="font-size: 32.25px; font-family: 'DejaVu Sans', 'Liberation Sans', sans-serif; text-anchor: start" x="266.825" y="163.603867" transform="rotate(-0 266.825 163.603867)">GRB 130427A</text>
    </g>
    <g id="line2d_73">
     <g>
      <path d="M 0 -29.15 
L -6.544583 -9.007845 
L -27.723297 -9.007845 
L -10.589357 3.440691 
L -17.13394 23.582845 
L -0 11.134309 
L 17.13394 23.582845 
L 10.589357 3.440691 
L 27.723297 -9.007845 
L 6.544583 -9.007845 
z
" transform="translate(208.775 199.65332)" style="fill: #ff0000; stroke: #ff0000; stroke-width: 3.5; stroke-linejoin: bevel"/>
     </g>
    </g>
    <g id="text_26">
     <text style="font-size: 32.25px; font-family: 'DejaVu Sans', 'Liberation Sans', sans-serif; text-anchor: start" x="266.825" y="210.94082" transform="rotate(-0 266.825 210.94082)">GRB 221009A</text>
    </g>
   </g>
  </g>
 </g>
 <defs>
  <clipPath id="p60090a97e6">
   <rect x="147.5" y="15.4" width="1442.4" height="1053.8"/>
  </clipPath>
 </defs>
</svg>

</body></html>
